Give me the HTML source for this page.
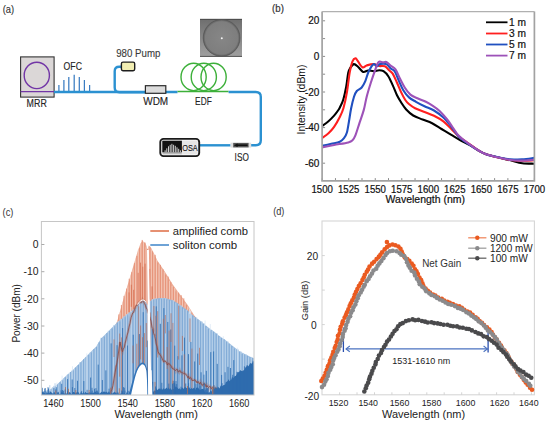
<!DOCTYPE html><html><head><meta charset="utf-8"><style>html,body{margin:0;padding:0;background:#fff;}body{width:550px;height:424px;overflow:hidden;}svg{display:block;font-family:"Liberation Sans", sans-serif;}</style></head><body>
<svg width="550" height="424" viewBox="0 0 550 424">
<rect width="550" height="424" fill="#fff"/>
<text x="2.70" y="12.80" font-size="10.20" fill="#333" stroke="#333" stroke-width="0.12" text-anchor="start" textLength="11.4" lengthAdjust="spacingAndGlyphs">(a)</text>
<rect x="20.6" y="56.9" width="33.5" height="40.2" fill="#dbd7d7" stroke="#333" stroke-width="1.1"/>
<ellipse cx="36.8" cy="75.4" rx="12.6" ry="13.2" fill="none" stroke="#7236a6" stroke-width="1.4"/>
<line x1="20.6" y1="91.7" x2="54" y2="91.7" stroke="#7236a6" stroke-width="1.3"/>
<text x="36.70" y="107.40" font-size="10.60" fill="#222" stroke="#222" stroke-width="0.12" text-anchor="middle" textLength="20.2" lengthAdjust="spacingAndGlyphs">MRR</text>
<line x1="58.9" y1="85.0" x2="58.9" y2="91.5" stroke="#3a7cc2" stroke-width="1.25"/>
<line x1="63.9" y1="80.0" x2="63.9" y2="91.5" stroke="#3a7cc2" stroke-width="1.25"/>
<line x1="68.8" y1="77.0" x2="68.8" y2="91.5" stroke="#3a7cc2" stroke-width="1.25"/>
<line x1="74.2" y1="74.7" x2="74.2" y2="91.5" stroke="#3a7cc2" stroke-width="1.25"/>
<line x1="79.3" y1="77.0" x2="79.3" y2="91.5" stroke="#3a7cc2" stroke-width="1.25"/>
<line x1="84.4" y1="80.0" x2="84.4" y2="91.5" stroke="#3a7cc2" stroke-width="1.25"/>
<line x1="89.6" y1="85.0" x2="89.6" y2="91.5" stroke="#3a7cc2" stroke-width="1.25"/>
<text x="72.80" y="69.90" font-size="10.60" fill="#222" stroke="#222" stroke-width="0.12" text-anchor="middle" textLength="18.4" lengthAdjust="spacingAndGlyphs">OFC</text>
<path d="M54,91.95 H177.5" stroke="#2b91d1" stroke-width="2.4" fill="none"/>
<path d="M177.5,91.6 H228.6" stroke="#3db03a" stroke-width="1.5" fill="none"/>
<path d="M228.6,91.95 H255.8 Q260.8,91.95 260.8,96.9 V140.2 Q260.8,145.2 255.8,145.2 H251" stroke="#2b91d1" stroke-width="2.4" fill="none"/>
<path d="M230.6,145.3 H199.5" stroke="#2b91d1" stroke-width="2.4" fill="none"/>
<path d="M121.5,66.7 H119.2 Q114.7,66.7 114.7,71.2 V87.6 Q114.7,92.3 119.4,92.3 H145.2" stroke="#2b91d1" stroke-width="2.4" fill="none"/>
<rect x="121.4" y="62.1" width="13.3" height="8.6" rx="1.6" fill="#f2eeb2" stroke="#1e1e1e" stroke-width="1.4"/>
<text x="116.20" y="56.60" font-size="10.20" fill="#3a3a3a" stroke="#3a3a3a" stroke-width="0.12" text-anchor="start" textLength="44.2" lengthAdjust="spacingAndGlyphs">980 Pump</text>
<rect x="145.4" y="85.7" width="20.4" height="7.6" fill="#dcdcdc" stroke="#2a2a2a" stroke-width="1.2"/>
<text x="155.70" y="104.70" font-size="10.60" fill="#222" stroke="#222" stroke-width="0.12" text-anchor="middle" textLength="25.0" lengthAdjust="spacingAndGlyphs">WDM</text>
<ellipse cx="193.6" cy="76.9" rx="12.6" ry="13.7" fill="none" stroke="#3db03a" stroke-width="1.4"/>
<ellipse cx="203.8" cy="76.9" rx="12.6" ry="13.7" fill="none" stroke="#3db03a" stroke-width="1.4"/>
<ellipse cx="213.6" cy="76.9" rx="12.6" ry="13.7" fill="none" stroke="#3db03a" stroke-width="1.4"/>
<text x="203.40" y="104.70" font-size="10.60" fill="#222" stroke="#222" stroke-width="0.12" text-anchor="middle" textLength="16.6" lengthAdjust="spacingAndGlyphs">EDF</text>
<defs><radialGradient id="pg" cx="0.5" cy="0.5" r="0.5"><stop offset="0" stop-color="#868686"/><stop offset="0.88" stop-color="#7e7e7e"/><stop offset="1" stop-color="#5c5c5c"/></radialGradient><linearGradient id="sq" x1="0" y1="0" x2="0" y2="1"><stop offset="0" stop-color="#6e6e6e"/><stop offset="1" stop-color="#a0a0a0"/></linearGradient></defs>
<rect x="200" y="18.9" width="42" height="38" fill="url(#sq)"/>
<line x1="200" y1="19.4" x2="242" y2="19.4" stroke="#4a4a4a" stroke-width="1"/>
<line x1="200" y1="56.4" x2="242" y2="56.4" stroke="#555" stroke-width="1"/>
<circle cx="221.6" cy="37.9" r="18.4" fill="url(#pg)" stroke="#555" stroke-width="0.7"/>
<circle cx="221.8" cy="38.3" r="1" fill="#f4f4f4"/>
<rect x="230.5" y="142.7" width="20.7" height="4.9" fill="#dedede"/>
<rect x="233.2" y="142.9" width="15.4" height="4.5" fill="#565656"/>
<path d="M237,145.2 H247.6" stroke="#111" stroke-width="1.6"/>
<path d="M233.8,145.2 L237.6,143.4 L237.6,147 Z" fill="#111"/>
<text x="241.70" y="160.60" font-size="10.60" fill="#222" stroke="#222" stroke-width="0.12" text-anchor="middle" textLength="14.2" lengthAdjust="spacingAndGlyphs">ISO</text>
<rect x="160.3" y="138.9" width="38.9" height="17.2" rx="3.2" fill="#fff" stroke="#1a1a1a" stroke-width="1.9"/>
<rect x="161.9" y="140.5" width="35.8" height="14" rx="0.8" fill="#e6e6e6"/>
<rect x="162.3" y="140.7" width="19.6" height="11.8" fill="#121212"/>
<rect x="162.3" y="152.5" width="19.6" height="2.1" fill="#d4d4d4"/>
<line x1="163" y1="152.9" x2="181.5" y2="152.9" stroke="#666" stroke-width="0.6"/>
<rect x="164.6" y="150.3" width="1" height="2.0" fill="#cfcfcf"/>
<rect x="166.3" y="148.3" width="1" height="4.0" fill="#cfcfcf"/>
<rect x="168.0" y="146.3" width="1" height="6.0" fill="#cfcfcf"/>
<rect x="169.7" y="144.8" width="1" height="7.5" fill="#cfcfcf"/>
<rect x="171.4" y="143.8" width="1" height="8.5" fill="#cfcfcf"/>
<rect x="173.1" y="144.8" width="1" height="7.5" fill="#cfcfcf"/>
<rect x="174.8" y="145.8" width="1" height="6.5" fill="#cfcfcf"/>
<rect x="176.5" y="147.3" width="1" height="5.0" fill="#cfcfcf"/>
<rect x="178.2" y="148.8" width="1" height="3.5" fill="#cfcfcf"/>
<rect x="179.9" y="150.3" width="1" height="2.0" fill="#cfcfcf"/>
<text x="190.00" y="150.80" font-size="9.40" fill="#111" stroke="#111" stroke-width="0.12" text-anchor="middle" textLength="15.4" lengthAdjust="spacingAndGlyphs">OSA</text>
<text x="272.10" y="12.10" font-size="10.00" fill="#333" stroke="#333" stroke-width="0.20" text-anchor="start" textLength="11.8" lengthAdjust="spacingAndGlyphs">(b)</text>
<line x1="322.20" y1="180.90" x2="322.20" y2="178.10" stroke="#8c8c8c" stroke-width="1"/>
<line x1="335.46" y1="180.90" x2="335.46" y2="178.10" stroke="#8c8c8c" stroke-width="1"/>
<line x1="348.72" y1="180.90" x2="348.72" y2="178.10" stroke="#8c8c8c" stroke-width="1"/>
<line x1="361.99" y1="180.90" x2="361.99" y2="178.10" stroke="#8c8c8c" stroke-width="1"/>
<line x1="375.25" y1="180.90" x2="375.25" y2="178.10" stroke="#8c8c8c" stroke-width="1"/>
<line x1="388.51" y1="180.90" x2="388.51" y2="178.10" stroke="#8c8c8c" stroke-width="1"/>
<line x1="401.77" y1="180.90" x2="401.77" y2="178.10" stroke="#8c8c8c" stroke-width="1"/>
<line x1="415.04" y1="180.90" x2="415.04" y2="178.10" stroke="#8c8c8c" stroke-width="1"/>
<line x1="428.30" y1="180.90" x2="428.30" y2="178.10" stroke="#8c8c8c" stroke-width="1"/>
<line x1="441.56" y1="180.90" x2="441.56" y2="178.10" stroke="#8c8c8c" stroke-width="1"/>
<line x1="454.82" y1="180.90" x2="454.82" y2="178.10" stroke="#8c8c8c" stroke-width="1"/>
<line x1="468.09" y1="180.90" x2="468.09" y2="178.10" stroke="#8c8c8c" stroke-width="1"/>
<line x1="481.35" y1="180.90" x2="481.35" y2="178.10" stroke="#8c8c8c" stroke-width="1"/>
<line x1="494.61" y1="180.90" x2="494.61" y2="178.10" stroke="#8c8c8c" stroke-width="1"/>
<line x1="507.88" y1="180.90" x2="507.88" y2="178.10" stroke="#8c8c8c" stroke-width="1"/>
<line x1="521.14" y1="180.90" x2="521.14" y2="178.10" stroke="#8c8c8c" stroke-width="1"/>
<line x1="534.40" y1="180.90" x2="534.40" y2="178.10" stroke="#8c8c8c" stroke-width="1"/>
<line x1="322.10" y1="163.20" x2="325.10" y2="163.20" stroke="#8c8c8c" stroke-width="1"/>
<line x1="322.10" y1="145.40" x2="325.10" y2="145.40" stroke="#8c8c8c" stroke-width="1"/>
<line x1="322.10" y1="127.60" x2="325.10" y2="127.60" stroke="#8c8c8c" stroke-width="1"/>
<line x1="322.10" y1="109.80" x2="325.10" y2="109.80" stroke="#8c8c8c" stroke-width="1"/>
<line x1="322.10" y1="92.00" x2="325.10" y2="92.00" stroke="#8c8c8c" stroke-width="1"/>
<line x1="322.10" y1="74.20" x2="325.10" y2="74.20" stroke="#8c8c8c" stroke-width="1"/>
<line x1="322.10" y1="56.40" x2="325.10" y2="56.40" stroke="#8c8c8c" stroke-width="1"/>
<line x1="322.10" y1="38.60" x2="325.10" y2="38.60" stroke="#8c8c8c" stroke-width="1"/>
<line x1="322.10" y1="20.80" x2="325.10" y2="20.80" stroke="#8c8c8c" stroke-width="1"/>
<clipPath id="cb"><rect x="322" y="11" width="212.5" height="170"/></clipPath>
<g clip-path="url(#cb)" fill="none" stroke-width="2.1" stroke-linejoin="round" stroke-linecap="round">
<path d="M321.70,126.20 C322.83,125.37 326.43,122.97 328.50,121.20 C330.57,119.43 332.45,117.47 334.10,115.60 C335.75,113.73 337.37,111.52 338.40,110.00 C339.43,108.48 339.48,108.25 340.30,106.50 C341.12,104.75 342.32,102.78 343.30,99.50 C344.28,96.22 345.37,91.28 346.20,86.80 C347.03,82.32 347.60,75.78 348.30,72.60 C349.00,69.42 349.45,69.12 350.40,67.70 C351.35,66.28 352.70,64.22 354.00,64.10 C355.30,63.98 356.68,65.70 358.20,67.00 C359.72,68.30 361.45,71.32 363.10,71.90 C364.75,72.48 366.33,70.62 368.10,70.50 C369.87,70.38 371.85,71.25 373.70,71.20 C375.55,71.15 377.57,70.20 379.20,70.20 C380.83,70.20 381.98,70.20 383.50,71.20 C385.02,72.20 386.75,73.83 388.30,76.20 C389.85,78.57 391.35,82.22 392.80,85.40 C394.25,88.58 395.60,92.45 397.00,95.30 C398.40,98.15 399.67,100.13 401.20,102.50 C402.73,104.87 404.20,107.33 406.20,109.50 C408.20,111.67 410.47,113.83 413.20,115.50 C415.93,117.17 419.45,118.20 422.60,119.50 C425.75,120.80 428.95,121.72 432.10,123.30 C435.25,124.88 438.37,127.12 441.50,129.00 C444.63,130.88 447.75,132.72 450.90,134.60 C454.05,136.48 457.25,138.57 460.40,140.30 C463.55,142.03 466.53,143.15 469.80,145.00 C473.07,146.85 477.17,149.83 480.00,151.40 C482.83,152.97 483.70,153.38 486.80,154.40 C489.90,155.42 494.65,156.52 498.60,157.50 C502.55,158.48 506.55,159.35 510.50,160.30 C514.45,161.25 518.37,162.63 522.30,163.20 C526.23,163.77 532.13,163.62 534.10,163.70" stroke="#000000"/>
<path d="M321.70,138.20 C322.83,137.37 326.43,135.08 328.50,133.20 C330.57,131.32 332.22,129.60 334.10,126.90 C335.98,124.20 338.23,120.15 339.80,117.00 C341.37,113.85 342.32,112.10 343.50,108.00 C344.68,103.90 345.87,98.30 346.90,92.40 C347.93,86.50 348.77,77.78 349.70,72.60 C350.63,67.42 351.55,63.68 352.50,61.30 C353.45,58.92 354.57,58.42 355.40,58.30 C356.23,58.18 356.33,59.10 357.50,60.60 C358.67,62.10 360.87,66.50 362.40,67.30 C363.93,68.10 364.82,65.93 366.70,65.40 C368.58,64.87 371.62,64.00 373.70,64.10 C375.78,64.20 377.33,65.63 379.20,66.00 C381.07,66.37 383.25,65.58 384.90,66.30 C386.55,67.02 387.80,69.08 389.10,70.30 C390.40,71.52 391.40,71.57 392.70,73.60 C394.00,75.63 395.48,79.37 396.90,82.50 C398.32,85.63 399.80,89.48 401.20,92.40 C402.60,95.32 404.02,98.07 405.30,100.00 C406.58,101.93 407.27,102.63 408.90,104.00 C410.53,105.37 412.50,106.87 415.10,108.20 C417.70,109.53 421.35,110.73 424.50,112.00 C427.65,113.27 430.85,114.23 434.00,115.80 C437.15,117.37 440.58,119.27 443.40,121.40 C446.22,123.53 448.38,126.13 450.90,128.60 C453.42,131.07 455.67,133.78 458.50,136.20 C461.33,138.62 464.32,140.57 467.90,143.10 C471.48,145.63 476.85,149.52 480.00,151.40 C483.15,153.28 483.70,153.38 486.80,154.40 C489.90,155.42 494.65,156.57 498.60,157.50 C502.55,158.43 506.55,159.47 510.50,160.00 C514.45,160.53 518.37,160.67 522.30,160.70 C526.23,160.73 532.13,160.28 534.10,160.20" stroke="#ff1f1f"/>
<path d="M321.70,146.00 C323.30,145.63 328.28,144.52 331.30,143.80 C334.32,143.08 337.68,142.63 339.80,141.70 C341.92,140.77 342.82,139.73 344.00,138.20 C345.18,136.67 346.07,135.33 346.90,132.50 C347.73,129.67 348.30,125.20 349.00,121.20 C349.70,117.20 350.27,112.58 351.10,108.50 C351.93,104.42 353.05,99.62 354.00,96.70 C354.95,93.78 355.52,92.53 356.80,91.00 C358.08,89.47 360.28,89.15 361.70,87.50 C363.12,85.85 364.12,83.82 365.30,81.10 C366.48,78.38 367.40,74.03 368.80,71.20 C370.20,68.37 372.40,64.92 373.70,64.10 C375.00,63.28 375.55,66.30 376.60,66.30 C377.65,66.30 378.38,64.47 380.00,64.10 C381.62,63.73 384.53,63.38 386.30,64.10 C388.07,64.82 389.18,67.17 390.60,68.40 C392.02,69.63 393.40,69.38 394.80,71.50 C396.20,73.62 397.58,77.97 399.00,81.10 C400.42,84.23 401.63,87.58 403.30,90.30 C404.97,93.02 406.88,95.48 409.00,97.40 C411.12,99.32 413.42,100.32 416.00,101.80 C418.58,103.28 421.50,104.85 424.50,106.30 C427.50,107.75 430.85,108.62 434.00,110.50 C437.15,112.38 440.58,115.00 443.40,117.60 C446.22,120.20 448.38,123.00 450.90,126.10 C453.42,129.20 455.67,133.28 458.50,136.20 C461.33,139.12 464.32,141.07 467.90,143.60 C471.48,146.13 476.85,149.60 480.00,151.40 C483.15,153.20 483.70,153.42 486.80,154.40 C489.90,155.38 494.65,156.47 498.60,157.30 C502.55,158.13 506.55,159.08 510.50,159.40 C514.45,159.72 518.37,159.45 522.30,159.20 C526.23,158.95 532.13,158.12 534.10,157.90" stroke="#2050c0"/>
<path d="M321.70,147.40 C323.77,147.00 329.67,145.83 334.10,145.00 C338.53,144.17 345.23,143.18 348.30,142.40 C351.37,141.62 351.32,141.47 352.50,140.30 C353.68,139.13 354.22,138.35 355.40,135.40 C356.58,132.45 358.20,126.85 359.60,122.60 C361.00,118.35 362.62,114.22 363.80,109.90 C364.98,105.58 365.52,101.27 366.70,96.70 C367.88,92.13 369.48,86.98 370.90,82.50 C372.32,78.02 374.02,73.10 375.20,69.80 C376.38,66.50 377.20,64.07 378.00,62.70 C378.80,61.33 379.17,61.65 380.00,61.60 C380.83,61.55 381.95,62.33 383.00,62.40 C384.05,62.47 385.03,61.47 386.30,62.00 C387.57,62.53 389.07,64.37 390.60,65.60 C392.13,66.83 393.97,67.28 395.50,69.40 C397.03,71.52 398.27,75.28 399.80,78.30 C401.33,81.32 402.93,84.78 404.70,87.50 C406.47,90.22 408.28,92.80 410.40,94.60 C412.52,96.40 414.82,97.10 417.40,98.30 C419.98,99.50 423.45,100.62 425.90,101.80 C428.35,102.98 429.82,103.87 432.10,105.40 C434.38,106.93 437.08,108.65 439.60,111.00 C442.12,113.35 445.00,116.75 447.20,119.50 C449.40,122.25 450.92,124.85 452.80,127.50 C454.68,130.15 455.98,132.80 458.50,135.40 C461.02,138.00 464.32,140.43 467.90,143.10 C471.48,145.77 476.85,149.52 480.00,151.40 C483.15,153.28 483.70,153.38 486.80,154.40 C489.90,155.42 494.65,156.57 498.60,157.50 C502.55,158.43 506.55,159.48 510.50,160.00 C514.45,160.52 518.37,160.63 522.30,160.60 C526.23,160.57 532.13,159.93 534.10,159.80" stroke="#9d52b8"/>
</g>
<path d="M322.1,11.6 V180.9 H534.4 V11.6" fill="none" stroke="#a2a2a2" stroke-width="1.7"/>
<line x1="322.1" y1="11.6" x2="534.4" y2="11.6" stroke="#b0b0b0" stroke-width="1.1"/>
<text x="319.40" y="24.30" font-size="10.00" fill="#111" stroke="#111" stroke-width="0.20" text-anchor="end">20</text>
<text x="319.40" y="59.90" font-size="10.00" fill="#111" stroke="#111" stroke-width="0.20" text-anchor="end">0</text>
<text x="319.40" y="95.50" font-size="10.00" fill="#111" stroke="#111" stroke-width="0.20" text-anchor="end">-20</text>
<text x="319.40" y="131.10" font-size="10.00" fill="#111" stroke="#111" stroke-width="0.20" text-anchor="end">-40</text>
<text x="319.40" y="166.70" font-size="10.00" fill="#111" stroke="#111" stroke-width="0.20" text-anchor="end">-60</text>
<text x="322.20" y="193.40" font-size="10.00" fill="#111" stroke="#111" stroke-width="0.20" text-anchor="middle" textLength="21.4" lengthAdjust="spacingAndGlyphs">1500</text>
<text x="348.72" y="193.40" font-size="10.00" fill="#111" stroke="#111" stroke-width="0.20" text-anchor="middle" textLength="21.4" lengthAdjust="spacingAndGlyphs">1525</text>
<text x="375.25" y="193.40" font-size="10.00" fill="#111" stroke="#111" stroke-width="0.20" text-anchor="middle" textLength="21.4" lengthAdjust="spacingAndGlyphs">1550</text>
<text x="401.77" y="193.40" font-size="10.00" fill="#111" stroke="#111" stroke-width="0.20" text-anchor="middle" textLength="21.4" lengthAdjust="spacingAndGlyphs">1575</text>
<text x="428.30" y="193.40" font-size="10.00" fill="#111" stroke="#111" stroke-width="0.20" text-anchor="middle" textLength="21.4" lengthAdjust="spacingAndGlyphs">1600</text>
<text x="454.82" y="193.40" font-size="10.00" fill="#111" stroke="#111" stroke-width="0.20" text-anchor="middle" textLength="21.4" lengthAdjust="spacingAndGlyphs">1625</text>
<text x="481.35" y="193.40" font-size="10.00" fill="#111" stroke="#111" stroke-width="0.20" text-anchor="middle" textLength="21.4" lengthAdjust="spacingAndGlyphs">1650</text>
<text x="507.88" y="193.40" font-size="10.00" fill="#111" stroke="#111" stroke-width="0.20" text-anchor="middle" textLength="21.4" lengthAdjust="spacingAndGlyphs">1675</text>
<text x="534.40" y="193.40" font-size="10.00" fill="#111" stroke="#111" stroke-width="0.20" text-anchor="middle" textLength="21.4" lengthAdjust="spacingAndGlyphs">1700</text>
<text x="425.30" y="203.40" font-size="10.40" fill="#111" stroke="#111" stroke-width="0.20" text-anchor="middle" textLength="79.5" lengthAdjust="spacingAndGlyphs">Wavelength (nm)</text>
<text transform="translate(305.2,99.5) rotate(-90)" x="0" y="0" font-size="10.2" fill="#111" text-anchor="middle" textLength="70" lengthAdjust="spacingAndGlyphs">Intensity (dBm)</text>
<line x1="486" y1="22.3" x2="507.5" y2="22.3" stroke="#000000" stroke-width="1.8"/>
<text x="509.00" y="26.00" font-size="10.40" fill="#111" stroke="#111" stroke-width="0.20" text-anchor="start" textLength="17.0" lengthAdjust="spacingAndGlyphs">1 m</text>
<line x1="486" y1="33.5" x2="507.5" y2="33.5" stroke="#ff1f1f" stroke-width="1.8"/>
<text x="509.00" y="37.20" font-size="10.40" fill="#111" stroke="#111" stroke-width="0.20" text-anchor="start" textLength="17.0" lengthAdjust="spacingAndGlyphs">3 m</text>
<line x1="486" y1="44.5" x2="507.5" y2="44.5" stroke="#2050c0" stroke-width="1.8"/>
<text x="509.00" y="48.20" font-size="10.40" fill="#111" stroke="#111" stroke-width="0.20" text-anchor="start" textLength="17.0" lengthAdjust="spacingAndGlyphs">5 m</text>
<line x1="486" y1="55.6" x2="507.5" y2="55.6" stroke="#9d52b8" stroke-width="1.8"/>
<text x="509.00" y="59.30" font-size="10.40" fill="#111" stroke="#111" stroke-width="0.20" text-anchor="start" textLength="17.0" lengthAdjust="spacingAndGlyphs">7 m</text>
<text x="2.60" y="216.40" font-size="10.00" fill="#333" text-anchor="start" textLength="10.8" lengthAdjust="spacingAndGlyphs">(c)</text>
<clipPath id="cc"><rect x="41.4" y="221.5" width="212.6" height="173.5"/></clipPath>
<g clip-path="url(#cc)">
<polygon points="110.0,340.0 114.0,330.0 117.7,319.6 123.6,298.4 130.7,274.8 137.7,251.2 140.5,243.5 142.5,240.4 144.0,242.6 145.4,242.8 146.5,246.0 147.3,250.0 148.8,245.5 150.4,246.8 151.5,248.5 157.5,260.8 165.1,272.0 172.6,284.3 180.2,294.7 187.7,305.0 194.3,315.5 200.0,322.0 200,395 110,395" fill="#edae98"/>
<line x1="111.00" y1="337.30" x2="111.00" y2="395" stroke="#e58f74" stroke-width="0.9"/>
<line x1="112.30" y1="334.70" x2="112.30" y2="395" stroke="#f6d2c4" stroke-width="0.7"/>
<line x1="113.60" y1="332.10" x2="113.60" y2="395" stroke="#e58f74" stroke-width="0.9"/>
<line x1="114.90" y1="327.69" x2="114.90" y2="395" stroke="#f6d2c4" stroke-width="0.7"/>
<line x1="116.20" y1="324.46" x2="116.20" y2="395" stroke="#e58f74" stroke-width="0.9"/>
<line x1="117.50" y1="321.26" x2="117.50" y2="395" stroke="#f6d2c4" stroke-width="0.7"/>
<line x1="118.80" y1="314.38" x2="118.80" y2="395" stroke="#e58f74" stroke-width="0.9"/>
<line x1="120.10" y1="312.50" x2="120.10" y2="395" stroke="#f6d2c4" stroke-width="0.7"/>
<line x1="121.40" y1="304.96" x2="121.40" y2="395" stroke="#e58f74" stroke-width="0.9"/>
<line x1="122.70" y1="302.93" x2="122.70" y2="395" stroke="#f6d2c4" stroke-width="0.7"/>
<line x1="124.00" y1="295.85" x2="124.00" y2="395" stroke="#e58f74" stroke-width="0.9"/>
<line x1="125.30" y1="293.02" x2="125.30" y2="395" stroke="#f6d2c4" stroke-width="0.7"/>
<line x1="126.60" y1="288.63" x2="126.60" y2="395" stroke="#e58f74" stroke-width="0.9"/>
<line x1="127.90" y1="286.59" x2="127.90" y2="395" stroke="#f6d2c4" stroke-width="0.7"/>
<line x1="129.20" y1="278.78" x2="129.20" y2="395" stroke="#e58f74" stroke-width="0.9"/>
<line x1="130.50" y1="276.13" x2="130.50" y2="395" stroke="#f6d2c4" stroke-width="0.7"/>
<line x1="131.80" y1="272.10" x2="131.80" y2="395" stroke="#e58f74" stroke-width="0.9"/>
<line x1="133.10" y1="269.55" x2="133.10" y2="395" stroke="#f6d2c4" stroke-width="0.7"/>
<line x1="134.40" y1="263.13" x2="134.40" y2="395" stroke="#e58f74" stroke-width="0.9"/>
<line x1="135.70" y1="259.13" x2="135.70" y2="395" stroke="#f6d2c4" stroke-width="0.7"/>
<line x1="137.00" y1="255.97" x2="137.00" y2="395" stroke="#e58f74" stroke-width="0.9"/>
<line x1="138.30" y1="249.69" x2="138.30" y2="395" stroke="#f6d2c4" stroke-width="0.7"/>
<line x1="139.60" y1="247.91" x2="139.60" y2="395" stroke="#e58f74" stroke-width="0.9"/>
<line x1="140.90" y1="243.75" x2="140.90" y2="395" stroke="#f6d2c4" stroke-width="0.7"/>
<line x1="142.20" y1="239.94" x2="142.20" y2="395" stroke="#e58f74" stroke-width="0.9"/>
<line x1="143.50" y1="242.22" x2="143.50" y2="395" stroke="#f6d2c4" stroke-width="0.7"/>
<line x1="144.80" y1="242.45" x2="144.80" y2="395" stroke="#e58f74" stroke-width="0.9"/>
<line x1="146.10" y1="247.28" x2="146.10" y2="395" stroke="#f6d2c4" stroke-width="0.7"/>
<line x1="147.40" y1="248.92" x2="147.40" y2="395" stroke="#e58f74" stroke-width="0.9"/>
<line x1="148.70" y1="247.54" x2="148.70" y2="395" stroke="#f6d2c4" stroke-width="0.7"/>
<line x1="150.00" y1="247.53" x2="150.00" y2="395" stroke="#e58f74" stroke-width="0.9"/>
<line x1="151.30" y1="249.31" x2="151.30" y2="395" stroke="#f6d2c4" stroke-width="0.7"/>
<line x1="152.60" y1="251.45" x2="152.60" y2="395" stroke="#e58f74" stroke-width="0.9"/>
<line x1="153.90" y1="253.61" x2="153.90" y2="395" stroke="#f6d2c4" stroke-width="0.7"/>
<line x1="155.20" y1="254.82" x2="155.20" y2="395" stroke="#e58f74" stroke-width="0.9"/>
<line x1="156.50" y1="259.37" x2="156.50" y2="395" stroke="#f6d2c4" stroke-width="0.7"/>
<line x1="157.80" y1="262.46" x2="157.80" y2="395" stroke="#e58f74" stroke-width="0.9"/>
<line x1="159.10" y1="264.44" x2="159.10" y2="395" stroke="#f6d2c4" stroke-width="0.7"/>
<line x1="160.40" y1="264.83" x2="160.40" y2="395" stroke="#e58f74" stroke-width="0.9"/>
<line x1="161.70" y1="268.75" x2="161.70" y2="395" stroke="#f6d2c4" stroke-width="0.7"/>
<line x1="163.00" y1="269.22" x2="163.00" y2="395" stroke="#e58f74" stroke-width="0.9"/>
<line x1="164.30" y1="271.72" x2="164.30" y2="395" stroke="#f6d2c4" stroke-width="0.7"/>
<line x1="165.60" y1="274.50" x2="165.60" y2="395" stroke="#e58f74" stroke-width="0.9"/>
<line x1="166.90" y1="277.05" x2="166.90" y2="395" stroke="#f6d2c4" stroke-width="0.7"/>
<line x1="168.20" y1="276.56" x2="168.20" y2="395" stroke="#e58f74" stroke-width="0.9"/>
<line x1="169.50" y1="280.94" x2="169.50" y2="395" stroke="#f6d2c4" stroke-width="0.7"/>
<line x1="170.80" y1="281.95" x2="170.80" y2="395" stroke="#e58f74" stroke-width="0.9"/>
<line x1="172.10" y1="286.11" x2="172.10" y2="395" stroke="#f6d2c4" stroke-width="0.7"/>
<line x1="173.40" y1="286.81" x2="173.40" y2="395" stroke="#e58f74" stroke-width="0.9"/>
<line x1="174.70" y1="288.04" x2="174.70" y2="395" stroke="#f6d2c4" stroke-width="0.7"/>
<line x1="176.00" y1="291.37" x2="176.00" y2="395" stroke="#e58f74" stroke-width="0.9"/>
<line x1="177.30" y1="291.09" x2="177.30" y2="395" stroke="#f6d2c4" stroke-width="0.7"/>
<line x1="178.60" y1="292.68" x2="178.60" y2="395" stroke="#e58f74" stroke-width="0.9"/>
<line x1="179.90" y1="296.56" x2="179.90" y2="395" stroke="#f6d2c4" stroke-width="0.7"/>
<line x1="181.20" y1="295.18" x2="181.20" y2="395" stroke="#e58f74" stroke-width="0.9"/>
<line x1="182.50" y1="299.33" x2="182.50" y2="395" stroke="#f6d2c4" stroke-width="0.7"/>
<line x1="183.80" y1="298.30" x2="183.80" y2="395" stroke="#e58f74" stroke-width="0.9"/>
<line x1="185.10" y1="303.43" x2="185.10" y2="395" stroke="#f6d2c4" stroke-width="0.7"/>
<line x1="186.40" y1="304.77" x2="186.40" y2="395" stroke="#e58f74" stroke-width="0.9"/>
<line x1="187.70" y1="306.72" x2="187.70" y2="395" stroke="#f6d2c4" stroke-width="0.7"/>
<line x1="189.00" y1="309.07" x2="189.00" y2="395" stroke="#e58f74" stroke-width="0.9"/>
<line x1="190.30" y1="310.08" x2="190.30" y2="395" stroke="#f6d2c4" stroke-width="0.7"/>
<line x1="191.60" y1="312.49" x2="191.60" y2="395" stroke="#e58f74" stroke-width="0.9"/>
<line x1="192.90" y1="315.06" x2="192.90" y2="395" stroke="#f6d2c4" stroke-width="0.7"/>
<line x1="194.20" y1="316.16" x2="194.20" y2="395" stroke="#e58f74" stroke-width="0.9"/>
<line x1="195.50" y1="318.24" x2="195.50" y2="395" stroke="#f6d2c4" stroke-width="0.7"/>
<line x1="196.80" y1="320.21" x2="196.80" y2="395" stroke="#e58f74" stroke-width="0.9"/>
<line x1="198.10" y1="322.67" x2="198.10" y2="395" stroke="#f6d2c4" stroke-width="0.7"/>
<line x1="129.00" y1="292.45" x2="129.00" y2="312" stroke="#cf6040" stroke-width="0.9" stroke-opacity="0.7"/>
<line x1="131.30" y1="284.78" x2="131.30" y2="312" stroke="#cf6040" stroke-width="0.9" stroke-opacity="0.7"/>
<line x1="133.60" y1="289.81" x2="133.60" y2="312" stroke="#cf6040" stroke-width="0.9" stroke-opacity="0.7"/>
<line x1="138.20" y1="272.80" x2="138.20" y2="312" stroke="#cf6040" stroke-width="0.9" stroke-opacity="0.7"/>
<line x1="140.50" y1="262.63" x2="140.50" y2="312" stroke="#cf6040" stroke-width="0.9" stroke-opacity="0.7"/>
<line x1="142.80" y1="266.71" x2="142.80" y2="312" stroke="#cf6040" stroke-width="0.9" stroke-opacity="0.7"/>
<line x1="145.10" y1="263.65" x2="145.10" y2="312" stroke="#cf6040" stroke-width="0.9" stroke-opacity="0.7"/>
<line x1="149.70" y1="268.93" x2="149.70" y2="312" stroke="#cf6040" stroke-width="0.9" stroke-opacity="0.7"/>
<line x1="152.00" y1="286.40" x2="152.00" y2="312" stroke="#cf6040" stroke-width="0.9" stroke-opacity="0.7"/>
<polygon points="41.4,392.0 50.0,389.5 56.0,385.5 64.8,377.1 73.0,369.7 83.0,359.8 89.6,353.1 96.2,346.5 101.0,338.5 105.9,333.7 111.8,327.8 117.7,321.9 123.6,317.1 129.5,312.4 135.4,307.7 139.5,303.0 141.9,300.6 143.8,299.6 145.5,301.5 147.5,306.0 149.5,302.0 151.9,299.4 159.0,298.0 165.0,298.0 171.3,299.8 177.0,302.8 182.6,306.7 188.3,311.0 190.0,313.0 195.9,317.7 201.8,321.8 207.7,327.1 213.6,331.3 219.5,336.0 225.4,340.1 230.0,343.7 232.5,345.7 239.6,351.3 246.7,354.9 254.0,358.5 254,395 41.4,395" fill="#9cbde0" fill-opacity="0.93"/>
<line x1="42.00" y1="389.58" x2="42.00" y2="395" stroke="#b8d0ea" stroke-width="0.9"/>
<line x1="48.50" y1="387.86" x2="48.50" y2="395" stroke="#b8d0ea" stroke-width="0.9"/>
<line x1="49.80" y1="385.14" x2="49.80" y2="395" stroke="#b8d0ea" stroke-width="0.9"/>
<line x1="52.40" y1="387.02" x2="52.40" y2="395" stroke="#b8d0ea" stroke-width="0.9"/>
<line x1="53.70" y1="385.87" x2="53.70" y2="395" stroke="#b8d0ea" stroke-width="0.9"/>
<line x1="55.00" y1="383.22" x2="55.00" y2="395" stroke="#b8d0ea" stroke-width="0.9"/>
<line x1="56.30" y1="384.87" x2="56.30" y2="395" stroke="#b9d2eb" stroke-width="1.0" stroke-opacity="0.9"/>
<line x1="56.90" y1="382.54" x2="56.90" y2="395" stroke="#dce8f5" stroke-width="0.8"/>
<line x1="57.60" y1="384.53" x2="57.60" y2="395" stroke="#80aad6" stroke-width="1.2" stroke-opacity="0.9"/>
<line x1="58.90" y1="384.11" x2="58.90" y2="395" stroke="#b9d2eb" stroke-width="1.0" stroke-opacity="0.9"/>
<line x1="60.20" y1="382.26" x2="60.20" y2="395" stroke="#80aad6" stroke-width="1.2" stroke-opacity="0.9"/>
<line x1="61.50" y1="380.94" x2="61.50" y2="395" stroke="#b9d2eb" stroke-width="1.0" stroke-opacity="0.9"/>
<line x1="62.10" y1="375.65" x2="62.10" y2="395" stroke="#dce8f5" stroke-width="0.8"/>
<line x1="62.80" y1="380.18" x2="62.80" y2="395" stroke="#80aad6" stroke-width="1.2" stroke-opacity="0.9"/>
<line x1="64.10" y1="378.76" x2="64.10" y2="395" stroke="#b9d2eb" stroke-width="1.0" stroke-opacity="0.9"/>
<line x1="65.40" y1="377.16" x2="65.40" y2="395" stroke="#80aad6" stroke-width="1.2" stroke-opacity="0.9"/>
<line x1="66.70" y1="375.97" x2="66.70" y2="395" stroke="#b9d2eb" stroke-width="1.0" stroke-opacity="0.9"/>
<line x1="67.30" y1="374.12" x2="67.30" y2="395" stroke="#dce8f5" stroke-width="0.8"/>
<line x1="68.00" y1="374.53" x2="68.00" y2="395" stroke="#80aad6" stroke-width="1.2" stroke-opacity="0.9"/>
<line x1="69.30" y1="372.89" x2="69.30" y2="395" stroke="#b9d2eb" stroke-width="1.0" stroke-opacity="0.9"/>
<line x1="69.90" y1="372.04" x2="69.90" y2="395" stroke="#dce8f5" stroke-width="0.8"/>
<line x1="70.60" y1="372.09" x2="70.60" y2="395" stroke="#80aad6" stroke-width="1.2" stroke-opacity="0.9"/>
<line x1="71.90" y1="370.60" x2="71.90" y2="395" stroke="#b9d2eb" stroke-width="1.0" stroke-opacity="0.9"/>
<line x1="72.50" y1="366.20" x2="72.50" y2="395" stroke="#dce8f5" stroke-width="0.8"/>
<line x1="73.20" y1="370.42" x2="73.20" y2="395" stroke="#80aad6" stroke-width="1.2" stroke-opacity="0.9"/>
<line x1="74.50" y1="367.85" x2="74.50" y2="395" stroke="#b9d2eb" stroke-width="1.0" stroke-opacity="0.9"/>
<line x1="75.80" y1="367.47" x2="75.80" y2="395" stroke="#80aad6" stroke-width="1.2" stroke-opacity="0.9"/>
<line x1="77.10" y1="366.76" x2="77.10" y2="395" stroke="#b9d2eb" stroke-width="1.0" stroke-opacity="0.9"/>
<line x1="78.40" y1="365.05" x2="78.40" y2="395" stroke="#80aad6" stroke-width="1.2" stroke-opacity="0.9"/>
<line x1="79.70" y1="362.28" x2="79.70" y2="395" stroke="#b9d2eb" stroke-width="1.0" stroke-opacity="0.9"/>
<line x1="81.00" y1="362.29" x2="81.00" y2="395" stroke="#80aad6" stroke-width="1.2" stroke-opacity="0.9"/>
<line x1="82.30" y1="361.57" x2="82.30" y2="395" stroke="#b9d2eb" stroke-width="1.0" stroke-opacity="0.9"/>
<line x1="83.60" y1="359.23" x2="83.60" y2="395" stroke="#80aad6" stroke-width="1.2" stroke-opacity="0.9"/>
<line x1="84.90" y1="358.19" x2="84.90" y2="395" stroke="#b9d2eb" stroke-width="1.0" stroke-opacity="0.9"/>
<line x1="86.20" y1="357.37" x2="86.20" y2="395" stroke="#80aad6" stroke-width="1.2" stroke-opacity="0.9"/>
<line x1="86.80" y1="353.44" x2="86.80" y2="395" stroke="#dce8f5" stroke-width="0.8"/>
<line x1="87.50" y1="356.68" x2="87.50" y2="395" stroke="#b9d2eb" stroke-width="1.0" stroke-opacity="0.9"/>
<line x1="88.80" y1="354.96" x2="88.80" y2="395" stroke="#80aad6" stroke-width="1.2" stroke-opacity="0.9"/>
<line x1="90.10" y1="352.52" x2="90.10" y2="395" stroke="#b9d2eb" stroke-width="1.0" stroke-opacity="0.9"/>
<line x1="91.40" y1="352.46" x2="91.40" y2="395" stroke="#80aad6" stroke-width="1.2" stroke-opacity="0.9"/>
<line x1="92.70" y1="350.95" x2="92.70" y2="395" stroke="#b9d2eb" stroke-width="1.0" stroke-opacity="0.9"/>
<line x1="94.00" y1="349.03" x2="94.00" y2="395" stroke="#80aad6" stroke-width="1.2" stroke-opacity="0.9"/>
<line x1="95.30" y1="348.86" x2="95.30" y2="395" stroke="#b9d2eb" stroke-width="1.0" stroke-opacity="0.9"/>
<line x1="96.60" y1="347.04" x2="96.60" y2="395" stroke="#80aad6" stroke-width="1.2" stroke-opacity="0.9"/>
<line x1="97.90" y1="344.52" x2="97.90" y2="395" stroke="#b9d2eb" stroke-width="1.0" stroke-opacity="0.9"/>
<line x1="99.20" y1="342.28" x2="99.20" y2="395" stroke="#80aad6" stroke-width="1.2" stroke-opacity="0.9"/>
<line x1="100.50" y1="338.41" x2="100.50" y2="395" stroke="#b9d2eb" stroke-width="1.0" stroke-opacity="0.9"/>
<line x1="101.10" y1="337.22" x2="101.10" y2="395" stroke="#dce8f5" stroke-width="0.8"/>
<line x1="101.80" y1="338.11" x2="101.80" y2="395" stroke="#80aad6" stroke-width="1.2" stroke-opacity="0.9"/>
<line x1="103.10" y1="337.83" x2="103.10" y2="395" stroke="#b9d2eb" stroke-width="1.0" stroke-opacity="0.9"/>
<line x1="104.40" y1="336.57" x2="104.40" y2="395" stroke="#80aad6" stroke-width="1.2" stroke-opacity="0.9"/>
<line x1="105.70" y1="335.28" x2="105.70" y2="395" stroke="#b9d2eb" stroke-width="1.0" stroke-opacity="0.9"/>
<line x1="107.00" y1="332.93" x2="107.00" y2="395" stroke="#80aad6" stroke-width="1.2" stroke-opacity="0.9"/>
<line x1="108.30" y1="330.79" x2="108.30" y2="395" stroke="#b9d2eb" stroke-width="1.0" stroke-opacity="0.9"/>
<line x1="109.60" y1="330.94" x2="109.60" y2="395" stroke="#80aad6" stroke-width="1.2" stroke-opacity="0.9"/>
<line x1="110.90" y1="329.80" x2="110.90" y2="395" stroke="#b9d2eb" stroke-width="1.0" stroke-opacity="0.9"/>
<line x1="112.20" y1="328.38" x2="112.20" y2="395" stroke="#80aad6" stroke-width="1.2" stroke-opacity="0.9"/>
<line x1="113.50" y1="325.31" x2="113.50" y2="395" stroke="#b9d2eb" stroke-width="1.0" stroke-opacity="0.9"/>
<line x1="114.80" y1="326.16" x2="114.80" y2="395" stroke="#80aad6" stroke-width="1.2" stroke-opacity="0.9"/>
<line x1="116.10" y1="324.38" x2="116.10" y2="395" stroke="#b9d2eb" stroke-width="1.0" stroke-opacity="0.9"/>
<line x1="117.40" y1="322.47" x2="117.40" y2="395" stroke="#80aad6" stroke-width="1.2" stroke-opacity="0.9"/>
<line x1="118.70" y1="320.92" x2="118.70" y2="395" stroke="#b9d2eb" stroke-width="1.0" stroke-opacity="0.9"/>
<line x1="120.00" y1="321.49" x2="120.00" y2="395" stroke="#80aad6" stroke-width="1.2" stroke-opacity="0.9"/>
<line x1="121.30" y1="318.97" x2="121.30" y2="395" stroke="#b9d2eb" stroke-width="1.0" stroke-opacity="0.9"/>
<line x1="122.60" y1="319.00" x2="122.60" y2="395" stroke="#80aad6" stroke-width="1.2" stroke-opacity="0.9"/>
<line x1="123.90" y1="316.18" x2="123.90" y2="395" stroke="#b9d2eb" stroke-width="1.0" stroke-opacity="0.9"/>
<line x1="125.20" y1="317.18" x2="125.20" y2="395" stroke="#80aad6" stroke-width="1.2" stroke-opacity="0.9"/>
<line x1="126.50" y1="314.16" x2="126.50" y2="395" stroke="#b9d2eb" stroke-width="1.0" stroke-opacity="0.9"/>
<line x1="127.80" y1="315.22" x2="127.80" y2="395" stroke="#80aad6" stroke-width="1.2" stroke-opacity="0.9"/>
<line x1="129.10" y1="312.59" x2="129.10" y2="395" stroke="#b9d2eb" stroke-width="1.0" stroke-opacity="0.9"/>
<line x1="130.40" y1="311.88" x2="130.40" y2="395" stroke="#80aad6" stroke-width="1.2" stroke-opacity="0.9"/>
<line x1="131.00" y1="306.80" x2="131.00" y2="395" stroke="#dce8f5" stroke-width="0.8"/>
<line x1="131.70" y1="311.27" x2="131.70" y2="395" stroke="#b9d2eb" stroke-width="1.0" stroke-opacity="0.9"/>
<line x1="133.00" y1="311.01" x2="133.00" y2="395" stroke="#80aad6" stroke-width="1.2" stroke-opacity="0.9"/>
<line x1="134.30" y1="309.76" x2="134.30" y2="395" stroke="#b9d2eb" stroke-width="1.0" stroke-opacity="0.9"/>
<line x1="135.60" y1="307.79" x2="135.60" y2="395" stroke="#80aad6" stroke-width="1.2" stroke-opacity="0.9"/>
<line x1="136.90" y1="305.71" x2="136.90" y2="395" stroke="#b9d2eb" stroke-width="1.0" stroke-opacity="0.9"/>
<line x1="138.20" y1="305.37" x2="138.20" y2="395" stroke="#80aad6" stroke-width="1.2" stroke-opacity="0.9"/>
<line x1="139.50" y1="303.05" x2="139.50" y2="395" stroke="#b9d2eb" stroke-width="1.0" stroke-opacity="0.9"/>
<line x1="140.80" y1="303.07" x2="140.80" y2="395" stroke="#80aad6" stroke-width="1.2" stroke-opacity="0.9"/>
<line x1="142.10" y1="300.64" x2="142.10" y2="395" stroke="#b9d2eb" stroke-width="1.0" stroke-opacity="0.9"/>
<line x1="143.40" y1="301.17" x2="143.40" y2="395" stroke="#80aad6" stroke-width="1.2" stroke-opacity="0.9"/>
<line x1="144.70" y1="301.90" x2="144.70" y2="395" stroke="#b9d2eb" stroke-width="1.0" stroke-opacity="0.9"/>
<line x1="146.00" y1="303.42" x2="146.00" y2="395" stroke="#80aad6" stroke-width="1.2" stroke-opacity="0.9"/>
<line x1="147.30" y1="304.60" x2="147.30" y2="395" stroke="#b9d2eb" stroke-width="1.0" stroke-opacity="0.9"/>
<line x1="148.60" y1="304.07" x2="148.60" y2="395" stroke="#80aad6" stroke-width="1.2" stroke-opacity="0.9"/>
<line x1="149.20" y1="299.60" x2="149.20" y2="395" stroke="#dce8f5" stroke-width="0.8"/>
<line x1="149.90" y1="301.00" x2="149.90" y2="395" stroke="#b9d2eb" stroke-width="1.0" stroke-opacity="0.9"/>
<line x1="151.20" y1="301.25" x2="151.20" y2="395" stroke="#80aad6" stroke-width="1.2" stroke-opacity="0.9"/>
<line x1="152.50" y1="299.10" x2="152.50" y2="395" stroke="#b9d2eb" stroke-width="1.0" stroke-opacity="0.9"/>
<line x1="153.80" y1="299.86" x2="153.80" y2="395" stroke="#80aad6" stroke-width="1.2" stroke-opacity="0.9"/>
<line x1="155.10" y1="298.03" x2="155.10" y2="395" stroke="#b9d2eb" stroke-width="1.0" stroke-opacity="0.9"/>
<line x1="156.40" y1="298.89" x2="156.40" y2="395" stroke="#80aad6" stroke-width="1.2" stroke-opacity="0.9"/>
<line x1="157.70" y1="299.19" x2="157.70" y2="395" stroke="#b9d2eb" stroke-width="1.0" stroke-opacity="0.9"/>
<line x1="159.00" y1="298.84" x2="159.00" y2="395" stroke="#80aad6" stroke-width="1.2" stroke-opacity="0.9"/>
<line x1="160.30" y1="299.28" x2="160.30" y2="395" stroke="#b9d2eb" stroke-width="1.0" stroke-opacity="0.9"/>
<line x1="161.60" y1="298.92" x2="161.60" y2="395" stroke="#80aad6" stroke-width="1.2" stroke-opacity="0.9"/>
<line x1="162.90" y1="298.28" x2="162.90" y2="395" stroke="#b9d2eb" stroke-width="1.0" stroke-opacity="0.9"/>
<line x1="164.20" y1="298.68" x2="164.20" y2="395" stroke="#80aad6" stroke-width="1.2" stroke-opacity="0.9"/>
<line x1="165.50" y1="298.34" x2="165.50" y2="395" stroke="#b9d2eb" stroke-width="1.0" stroke-opacity="0.9"/>
<line x1="166.80" y1="299.56" x2="166.80" y2="395" stroke="#80aad6" stroke-width="1.2" stroke-opacity="0.9"/>
<line x1="168.10" y1="300.24" x2="168.10" y2="395" stroke="#b9d2eb" stroke-width="1.0" stroke-opacity="0.9"/>
<line x1="169.40" y1="300.10" x2="169.40" y2="395" stroke="#80aad6" stroke-width="1.2" stroke-opacity="0.9"/>
<line x1="170.70" y1="300.73" x2="170.70" y2="395" stroke="#b9d2eb" stroke-width="1.0" stroke-opacity="0.9"/>
<line x1="172.00" y1="300.35" x2="172.00" y2="395" stroke="#80aad6" stroke-width="1.2" stroke-opacity="0.9"/>
<line x1="173.30" y1="300.03" x2="173.30" y2="395" stroke="#b9d2eb" stroke-width="1.0" stroke-opacity="0.9"/>
<line x1="174.60" y1="301.65" x2="174.60" y2="395" stroke="#80aad6" stroke-width="1.2" stroke-opacity="0.9"/>
<line x1="175.90" y1="303.18" x2="175.90" y2="395" stroke="#b9d2eb" stroke-width="1.0" stroke-opacity="0.9"/>
<line x1="177.20" y1="303.17" x2="177.20" y2="395" stroke="#80aad6" stroke-width="1.2" stroke-opacity="0.9"/>
<line x1="178.50" y1="304.50" x2="178.50" y2="395" stroke="#b9d2eb" stroke-width="1.0" stroke-opacity="0.9"/>
<line x1="179.80" y1="306.07" x2="179.80" y2="395" stroke="#80aad6" stroke-width="1.2" stroke-opacity="0.9"/>
<line x1="181.10" y1="305.20" x2="181.10" y2="395" stroke="#b9d2eb" stroke-width="1.0" stroke-opacity="0.9"/>
<line x1="182.40" y1="307.16" x2="182.40" y2="395" stroke="#80aad6" stroke-width="1.2" stroke-opacity="0.9"/>
<line x1="183.70" y1="309.00" x2="183.70" y2="395" stroke="#b9d2eb" stroke-width="1.0" stroke-opacity="0.9"/>
<line x1="185.00" y1="308.75" x2="185.00" y2="395" stroke="#80aad6" stroke-width="1.2" stroke-opacity="0.9"/>
<line x1="186.30" y1="309.78" x2="186.30" y2="395" stroke="#b9d2eb" stroke-width="1.0" stroke-opacity="0.9"/>
<line x1="187.60" y1="310.77" x2="187.60" y2="395" stroke="#80aad6" stroke-width="1.2" stroke-opacity="0.9"/>
<line x1="188.90" y1="312.51" x2="188.90" y2="395" stroke="#b9d2eb" stroke-width="1.0" stroke-opacity="0.9"/>
<line x1="189.50" y1="308.49" x2="189.50" y2="395" stroke="#dce8f5" stroke-width="0.8"/>
<line x1="190.20" y1="313.82" x2="190.20" y2="395" stroke="#80aad6" stroke-width="1.2" stroke-opacity="0.9"/>
<line x1="190.80" y1="310.83" x2="190.80" y2="395" stroke="#dce8f5" stroke-width="0.8"/>
<line x1="191.50" y1="314.75" x2="191.50" y2="395" stroke="#b9d2eb" stroke-width="1.0" stroke-opacity="0.9"/>
<line x1="192.80" y1="315.33" x2="192.80" y2="395" stroke="#80aad6" stroke-width="1.2" stroke-opacity="0.9"/>
<line x1="194.10" y1="317.24" x2="194.10" y2="395" stroke="#b9d2eb" stroke-width="1.0" stroke-opacity="0.9"/>
<line x1="195.40" y1="317.46" x2="195.40" y2="395" stroke="#80aad6" stroke-width="1.2" stroke-opacity="0.9"/>
<line x1="196.70" y1="317.35" x2="196.70" y2="395" stroke="#b9d2eb" stroke-width="1.0" stroke-opacity="0.9"/>
<line x1="198.00" y1="319.56" x2="198.00" y2="395" stroke="#80aad6" stroke-width="1.2" stroke-opacity="0.9"/>
<line x1="199.30" y1="320.12" x2="199.30" y2="395" stroke="#b9d2eb" stroke-width="1.0" stroke-opacity="0.9"/>
<line x1="200.60" y1="322.19" x2="200.60" y2="395" stroke="#80aad6" stroke-width="1.2" stroke-opacity="0.9"/>
<line x1="201.90" y1="321.26" x2="201.90" y2="395" stroke="#b9d2eb" stroke-width="1.0" stroke-opacity="0.9"/>
<line x1="203.20" y1="323.91" x2="203.20" y2="395" stroke="#80aad6" stroke-width="1.2" stroke-opacity="0.9"/>
<line x1="204.50" y1="323.45" x2="204.50" y2="395" stroke="#b9d2eb" stroke-width="1.0" stroke-opacity="0.9"/>
<line x1="205.10" y1="320.47" x2="205.10" y2="395" stroke="#dce8f5" stroke-width="0.8"/>
<line x1="205.80" y1="326.03" x2="205.80" y2="395" stroke="#80aad6" stroke-width="1.2" stroke-opacity="0.9"/>
<line x1="207.10" y1="327.91" x2="207.10" y2="395" stroke="#b9d2eb" stroke-width="1.0" stroke-opacity="0.9"/>
<line x1="208.40" y1="328.80" x2="208.40" y2="395" stroke="#80aad6" stroke-width="1.2" stroke-opacity="0.9"/>
<line x1="209.70" y1="329.66" x2="209.70" y2="395" stroke="#b9d2eb" stroke-width="1.0" stroke-opacity="0.9"/>
<line x1="210.30" y1="324.07" x2="210.30" y2="395" stroke="#dce8f5" stroke-width="0.8"/>
<line x1="211.00" y1="330.13" x2="211.00" y2="395" stroke="#80aad6" stroke-width="1.2" stroke-opacity="0.9"/>
<line x1="212.30" y1="330.76" x2="212.30" y2="395" stroke="#b9d2eb" stroke-width="1.0" stroke-opacity="0.9"/>
<line x1="213.60" y1="331.70" x2="213.60" y2="395" stroke="#80aad6" stroke-width="1.2" stroke-opacity="0.9"/>
<line x1="214.90" y1="332.65" x2="214.90" y2="395" stroke="#b9d2eb" stroke-width="1.0" stroke-opacity="0.9"/>
<line x1="216.20" y1="333.54" x2="216.20" y2="395" stroke="#80aad6" stroke-width="1.2" stroke-opacity="0.9"/>
<line x1="217.50" y1="333.53" x2="217.50" y2="395" stroke="#b9d2eb" stroke-width="1.0" stroke-opacity="0.9"/>
<line x1="218.80" y1="335.91" x2="218.80" y2="395" stroke="#80aad6" stroke-width="1.2" stroke-opacity="0.9"/>
<line x1="220.10" y1="337.32" x2="220.10" y2="395" stroke="#b9d2eb" stroke-width="1.0" stroke-opacity="0.9"/>
<line x1="221.40" y1="338.07" x2="221.40" y2="395" stroke="#80aad6" stroke-width="1.2" stroke-opacity="0.9"/>
<line x1="222.70" y1="338.09" x2="222.70" y2="395" stroke="#b9d2eb" stroke-width="1.0" stroke-opacity="0.9"/>
<line x1="223.30" y1="336.22" x2="223.30" y2="395" stroke="#dce8f5" stroke-width="0.8"/>
<line x1="224.00" y1="339.15" x2="224.00" y2="395" stroke="#80aad6" stroke-width="1.2" stroke-opacity="0.9"/>
<line x1="225.30" y1="340.41" x2="225.30" y2="395" stroke="#b9d2eb" stroke-width="1.0" stroke-opacity="0.9"/>
<line x1="226.60" y1="341.75" x2="226.60" y2="395" stroke="#80aad6" stroke-width="1.2" stroke-opacity="0.9"/>
<line x1="227.90" y1="341.32" x2="227.90" y2="395" stroke="#b9d2eb" stroke-width="1.0" stroke-opacity="0.9"/>
<line x1="229.20" y1="343.72" x2="229.20" y2="395" stroke="#80aad6" stroke-width="1.2" stroke-opacity="0.9"/>
<line x1="230.50" y1="345.19" x2="230.50" y2="395" stroke="#b9d2eb" stroke-width="1.0" stroke-opacity="0.9"/>
<line x1="231.80" y1="345.90" x2="231.80" y2="395" stroke="#80aad6" stroke-width="1.2" stroke-opacity="0.9"/>
<line x1="233.10" y1="347.63" x2="233.10" y2="395" stroke="#b9d2eb" stroke-width="1.0" stroke-opacity="0.9"/>
<line x1="234.40" y1="348.45" x2="234.40" y2="395" stroke="#80aad6" stroke-width="1.2" stroke-opacity="0.9"/>
<line x1="235.70" y1="348.81" x2="235.70" y2="395" stroke="#b9d2eb" stroke-width="1.0" stroke-opacity="0.9"/>
<line x1="237.00" y1="349.77" x2="237.00" y2="395" stroke="#80aad6" stroke-width="1.2" stroke-opacity="0.9"/>
<line x1="237.60" y1="347.73" x2="237.60" y2="395" stroke="#dce8f5" stroke-width="0.8"/>
<line x1="238.30" y1="349.45" x2="238.30" y2="395" stroke="#b9d2eb" stroke-width="1.0" stroke-opacity="0.9"/>
<line x1="239.60" y1="351.68" x2="239.60" y2="395" stroke="#80aad6" stroke-width="1.2" stroke-opacity="0.9"/>
<line x1="240.90" y1="351.17" x2="240.90" y2="395" stroke="#b9d2eb" stroke-width="1.0" stroke-opacity="0.9"/>
<line x1="242.20" y1="353.92" x2="242.20" y2="395" stroke="#80aad6" stroke-width="1.2" stroke-opacity="0.9"/>
<line x1="243.50" y1="352.98" x2="243.50" y2="395" stroke="#b9d2eb" stroke-width="1.0" stroke-opacity="0.9"/>
<line x1="244.80" y1="354.38" x2="244.80" y2="395" stroke="#80aad6" stroke-width="1.2" stroke-opacity="0.9"/>
<line x1="246.10" y1="353.99" x2="246.10" y2="395" stroke="#b9d2eb" stroke-width="1.0" stroke-opacity="0.9"/>
<line x1="247.40" y1="355.64" x2="247.40" y2="395" stroke="#80aad6" stroke-width="1.2" stroke-opacity="0.9"/>
<line x1="248.70" y1="357.32" x2="248.70" y2="395" stroke="#b9d2eb" stroke-width="1.0" stroke-opacity="0.9"/>
<line x1="250.00" y1="356.89" x2="250.00" y2="395" stroke="#80aad6" stroke-width="1.2" stroke-opacity="0.9"/>
<line x1="251.30" y1="356.94" x2="251.30" y2="395" stroke="#b9d2eb" stroke-width="1.0" stroke-opacity="0.9"/>
<line x1="252.60" y1="357.81" x2="252.60" y2="395" stroke="#80aad6" stroke-width="1.2" stroke-opacity="0.9"/>
<line x1="253.90" y1="358.64" x2="253.90" y2="395" stroke="#b9d2eb" stroke-width="1.0" stroke-opacity="0.9"/>
<line x1="50.00" y1="391.21" x2="50.00" y2="395" stroke="#3473b6" stroke-width="1" stroke-opacity="0.9"/>
<line x1="56.27" y1="387.22" x2="56.27" y2="395" stroke="#3473b6" stroke-width="1" stroke-opacity="0.9"/>
<line x1="61.69" y1="383.79" x2="61.69" y2="395" stroke="#3473b6" stroke-width="1" stroke-opacity="0.9"/>
<line x1="67.59" y1="379.13" x2="67.59" y2="395" stroke="#3473b6" stroke-width="1" stroke-opacity="0.9"/>
<line x1="72.17" y1="379.47" x2="72.17" y2="395" stroke="#3473b6" stroke-width="1" stroke-opacity="0.9"/>
<line x1="77.48" y1="380.79" x2="77.48" y2="395" stroke="#3473b6" stroke-width="1" stroke-opacity="0.9"/>
<line x1="83.84" y1="381.04" x2="83.84" y2="395" stroke="#3473b6" stroke-width="1" stroke-opacity="0.9"/>
<line x1="90.64" y1="377.56" x2="90.64" y2="395" stroke="#3473b6" stroke-width="1" stroke-opacity="0.9"/>
<line x1="98.21" y1="364.62" x2="98.21" y2="395" stroke="#3473b6" stroke-width="1" stroke-opacity="0.9"/>
<line x1="102.35" y1="380.06" x2="102.35" y2="395" stroke="#3473b6" stroke-width="1" stroke-opacity="0.9"/>
<line x1="105.88" y1="370.38" x2="105.88" y2="395" stroke="#3473b6" stroke-width="1" stroke-opacity="0.9"/>
<line x1="111.13" y1="343.38" x2="111.13" y2="395" stroke="#3473b6" stroke-width="1" stroke-opacity="0.9"/>
<line x1="117.05" y1="345.16" x2="117.05" y2="395" stroke="#3473b6" stroke-width="1" stroke-opacity="0.9"/>
<line x1="122.62" y1="328.04" x2="122.62" y2="395" stroke="#3473b6" stroke-width="1" stroke-opacity="0.9"/>
<line x1="127.45" y1="345.52" x2="127.45" y2="395" stroke="#3473b6" stroke-width="1" stroke-opacity="0.9"/>
<line x1="133.27" y1="334.74" x2="133.27" y2="395" stroke="#3473b6" stroke-width="1" stroke-opacity="0.9"/>
<line x1="139.40" y1="334.04" x2="139.40" y2="395" stroke="#3473b6" stroke-width="1" stroke-opacity="0.9"/>
<line x1="143.20" y1="312.20" x2="143.20" y2="395" stroke="#3473b6" stroke-width="1" stroke-opacity="0.9"/>
<line x1="147.46" y1="340.59" x2="147.46" y2="395" stroke="#3473b6" stroke-width="1" stroke-opacity="0.9"/>
<line x1="152.42" y1="329.13" x2="152.42" y2="395" stroke="#3473b6" stroke-width="1" stroke-opacity="0.9"/>
<line x1="156.25" y1="306.38" x2="156.25" y2="395" stroke="#3473b6" stroke-width="1" stroke-opacity="0.9"/>
<line x1="160.32" y1="323.81" x2="160.32" y2="395" stroke="#3473b6" stroke-width="1" stroke-opacity="0.9"/>
<line x1="163.85" y1="308.13" x2="163.85" y2="395" stroke="#3473b6" stroke-width="1" stroke-opacity="0.9"/>
<line x1="167.79" y1="321.98" x2="167.79" y2="395" stroke="#3473b6" stroke-width="1" stroke-opacity="0.9"/>
<line x1="170.75" y1="329.48" x2="170.75" y2="395" stroke="#3473b6" stroke-width="1" stroke-opacity="0.9"/>
<line x1="174.70" y1="345.65" x2="174.70" y2="395" stroke="#3473b6" stroke-width="1" stroke-opacity="0.9"/>
<line x1="177.91" y1="356.18" x2="177.91" y2="395" stroke="#3473b6" stroke-width="1" stroke-opacity="0.9"/>
<line x1="181.92" y1="355.36" x2="181.92" y2="395" stroke="#3473b6" stroke-width="1" stroke-opacity="0.9"/>
<line x1="184.48" y1="337.63" x2="184.48" y2="395" stroke="#3473b6" stroke-width="1" stroke-opacity="0.9"/>
<line x1="188.44" y1="354.11" x2="188.44" y2="395" stroke="#3473b6" stroke-width="1" stroke-opacity="0.9"/>
<line x1="190.87" y1="341.97" x2="190.87" y2="395" stroke="#3473b6" stroke-width="1" stroke-opacity="0.9"/>
<line x1="194.68" y1="361.47" x2="194.68" y2="395" stroke="#3473b6" stroke-width="1" stroke-opacity="0.9"/>
<line x1="197.69" y1="353.59" x2="197.69" y2="395" stroke="#3473b6" stroke-width="1" stroke-opacity="0.9"/>
<line x1="201.07" y1="372.26" x2="201.07" y2="395" stroke="#3473b6" stroke-width="1" stroke-opacity="0.9"/>
<line x1="203.89" y1="374.67" x2="203.89" y2="395" stroke="#3473b6" stroke-width="1" stroke-opacity="0.9"/>
<line x1="206.32" y1="370.87" x2="206.32" y2="395" stroke="#3473b6" stroke-width="1" stroke-opacity="0.9"/>
<line x1="210.76" y1="352.13" x2="210.76" y2="395" stroke="#3473b6" stroke-width="1" stroke-opacity="0.9"/>
<line x1="213.60" y1="351.42" x2="213.60" y2="395" stroke="#3473b6" stroke-width="1" stroke-opacity="0.9"/>
<line x1="217.22" y1="363.88" x2="217.22" y2="395" stroke="#3473b6" stroke-width="1" stroke-opacity="0.9"/>
<line x1="221.62" y1="374.93" x2="221.62" y2="395" stroke="#3473b6" stroke-width="1" stroke-opacity="0.9"/>
<line x1="225.09" y1="372.23" x2="225.09" y2="395" stroke="#3473b6" stroke-width="1" stroke-opacity="0.9"/>
<line x1="227.97" y1="366.83" x2="227.97" y2="395" stroke="#3473b6" stroke-width="1" stroke-opacity="0.9"/>
<line x1="230.43" y1="368.01" x2="230.43" y2="395" stroke="#3473b6" stroke-width="1" stroke-opacity="0.9"/>
<line x1="233.77" y1="360.10" x2="233.77" y2="395" stroke="#3473b6" stroke-width="1" stroke-opacity="0.9"/>
<line x1="236.90" y1="379.51" x2="236.90" y2="395" stroke="#3473b6" stroke-width="1" stroke-opacity="0.9"/>
<line x1="239.30" y1="380.13" x2="239.30" y2="395" stroke="#3473b6" stroke-width="1" stroke-opacity="0.9"/>
<line x1="241.95" y1="377.66" x2="241.95" y2="395" stroke="#3473b6" stroke-width="1" stroke-opacity="0.9"/>
<line x1="246.24" y1="370.99" x2="246.24" y2="395" stroke="#3473b6" stroke-width="1" stroke-opacity="0.9"/>
<line x1="249.47" y1="376.56" x2="249.47" y2="395" stroke="#3473b6" stroke-width="1" stroke-opacity="0.9"/>
<line x1="114.00" y1="339.36" x2="114.00" y2="357.01" stroke="#bb6650" stroke-width="0.9" stroke-opacity="0.7"/>
<line x1="115.90" y1="365.43" x2="115.90" y2="395.00" stroke="#bb6650" stroke-width="0.9" stroke-opacity="0.7"/>
<line x1="119.70" y1="333.56" x2="119.70" y2="376.66" stroke="#bb6650" stroke-width="0.9" stroke-opacity="0.7"/>
<line x1="121.60" y1="337.39" x2="121.60" y2="395.00" stroke="#bb6650" stroke-width="0.9" stroke-opacity="0.7"/>
<line x1="133.00" y1="345.59" x2="133.00" y2="363.31" stroke="#bb6650" stroke-width="0.9" stroke-opacity="0.7"/>
<line x1="136.80" y1="343.73" x2="136.80" y2="394.18" stroke="#bb6650" stroke-width="0.9" stroke-opacity="0.7"/>
<line x1="138.70" y1="306.37" x2="138.70" y2="372.34" stroke="#bb6650" stroke-width="0.9" stroke-opacity="0.7"/>
<line x1="140.60" y1="325.51" x2="140.60" y2="359.41" stroke="#bb6650" stroke-width="0.9" stroke-opacity="0.7"/>
<line x1="142.50" y1="337.24" x2="142.50" y2="395.00" stroke="#bb6650" stroke-width="0.9" stroke-opacity="0.7"/>
<line x1="144.40" y1="333.07" x2="144.40" y2="364.62" stroke="#bb6650" stroke-width="0.9" stroke-opacity="0.7"/>
<line x1="146.30" y1="323.02" x2="146.30" y2="347.22" stroke="#bb6650" stroke-width="0.9" stroke-opacity="0.7"/>
<line x1="148.20" y1="314.99" x2="148.20" y2="379.82" stroke="#bb6650" stroke-width="0.9" stroke-opacity="0.7"/>
<line x1="150.10" y1="312.35" x2="150.10" y2="377.20" stroke="#bb6650" stroke-width="0.9" stroke-opacity="0.7"/>
<line x1="153.90" y1="305.99" x2="153.90" y2="331.57" stroke="#bb6650" stroke-width="0.9" stroke-opacity="0.7"/>
<line x1="155.80" y1="315.73" x2="155.80" y2="335.74" stroke="#bb6650" stroke-width="0.9" stroke-opacity="0.7"/>
<line x1="157.70" y1="311.17" x2="157.70" y2="357.50" stroke="#bb6650" stroke-width="0.9" stroke-opacity="0.7"/>
<line x1="163.40" y1="318.69" x2="163.40" y2="362.52" stroke="#bb6650" stroke-width="0.9" stroke-opacity="0.7"/>
<line x1="165.30" y1="315.00" x2="165.30" y2="333.41" stroke="#bb6650" stroke-width="0.9" stroke-opacity="0.7"/>
<line x1="167.20" y1="347.01" x2="167.20" y2="368.94" stroke="#bb6650" stroke-width="0.9" stroke-opacity="0.7"/>
<line x1="169.10" y1="330.65" x2="169.10" y2="393.11" stroke="#bb6650" stroke-width="0.9" stroke-opacity="0.7"/>
<line x1="171.00" y1="313.27" x2="171.00" y2="341.93" stroke="#bb6650" stroke-width="0.9" stroke-opacity="0.7"/>
<line x1="172.90" y1="322.94" x2="172.90" y2="390.40" stroke="#bb6650" stroke-width="0.9" stroke-opacity="0.7"/>
<line x1="178.60" y1="305.53" x2="178.60" y2="359.55" stroke="#bb6650" stroke-width="0.9" stroke-opacity="0.7"/>
<line x1="182.40" y1="335.92" x2="182.40" y2="350.93" stroke="#bb6650" stroke-width="0.9" stroke-opacity="0.7"/>
<line x1="184.30" y1="354.32" x2="184.30" y2="395.00" stroke="#bb6650" stroke-width="0.9" stroke-opacity="0.7"/>
<line x1="190.00" y1="318.45" x2="190.00" y2="341.94" stroke="#bb6650" stroke-width="0.9" stroke-opacity="0.7"/>
<line x1="191.90" y1="348.62" x2="191.90" y2="395.00" stroke="#bb6650" stroke-width="0.9" stroke-opacity="0.7"/>
<line x1="199.50" y1="347.78" x2="199.50" y2="364.95" stroke="#bb6650" stroke-width="0.9" stroke-opacity="0.7"/>
<path d="M110.0,395.7 L111.0,391.9 L112.0,390.3 L113.0,385.2 L114.0,378.3 L115.0,372.6 L116.0,367.3 L117.0,363.2 L118.0,355.9 L119.0,349.1 L120.0,342.4 L120.8,346.7 L121.7,349.8 L122.5,351.9 L123.3,348.6 L124.2,347.2 L125.0,343.5 L126.0,340.4 L127.0,334.7 L128.0,331.6 L129.0,327.5 L130.0,322.8 L131.0,317.1 L131.9,314.1 L132.8,312.9 L133.6,312.1 L134.5,310.5 L135.4,307.9 L136.4,306.0 L137.4,304.4 L138.3,303.1 L139.2,301.9 L140.0,301.8 L140.9,302.7 L141.7,302.3 L142.6,299.6 L143.5,301.0 L144.5,303.8 L145.4,305.6 L146.3,308.6 L147.2,309.7 L148.1,313.0 L149.0,313.9 L150.0,318.7 L151.0,320.8 L152.0,327.4 L152.9,328.6 L153.7,334.0 L154.6,334.7 L155.4,338.4 L156.2,343.5 L157.0,345.8 L158.1,352.4 L159.2,354.1 L160.1,354.3 L161.1,356.1 L162.1,359.3 L163.0,360.4 L163.9,361.4 L164.8,361.2 L165.7,362.3 L166.6,363.2 L167.5,364.2 L168.4,363.5 L169.3,364.6 L170.3,365.4 L171.2,367.1 L172.1,367.3 L173.1,368.4 L174.0,368.3 L174.8,369.6 L175.7,371.4 L176.5,369.5 L177.3,370.3 L178.2,371.6 L179.0,372.5 L179.9,370.2 L180.7,371.9 L181.6,372.8 L182.5,373.7 L183.4,372.5 L184.3,373.6 L185.2,373.8 L186.1,374.3 L187.0,375.4 L187.9,377.0 L188.7,375.6 L189.6,378.4 L190.4,377.7 L191.3,378.8 L192.1,379.7 L193.0,379.9 L193.8,379.9 L194.6,380.0 L195.5,380.5 L196.3,380.8 L197.1,382.4 L197.9,382.1 L198.8,382.4 L199.6,383.2 L200.4,381.4 L201.2,383.4 L202.1,385.1 L202.9,385.6 L203.7,383.0 L204.5,383.4 L205.3,384.8 L206.2,386.7 L207.0,385.0 L207.8,386.6 L208.6,388.6 L209.5,386.1 L210.3,386.7 L211.1,388.3 L211.9,387.8 L212.8,388.1 L213.6,389.8 L214.4,387.8 L215.2,387.6 L216.1,388.3 L216.9,389.6 L217.8,389.9 L218.6,391.3 L219.5,391.5 L220.3,390.2 L221.2,390.3 L222.0,392.3" fill="none" stroke="#a85a48" stroke-width="2.6" stroke-opacity="0.28"/>
<path d="M110.0,395.7 L111.0,391.0 L112.0,389.4 L113.0,385.4 L114.0,378.8 L115.0,372.7 L116.0,367.4 L117.0,362.4 L118.0,356.5 L119.0,348.5 L120.0,341.9 L120.8,346.1 L121.7,349.2 L122.5,351.7 L123.3,348.9 L124.2,347.6 L125.0,343.7 L126.0,339.8 L127.0,335.6 L128.0,332.2 L129.0,327.0 L130.0,323.3 L131.0,317.9 L131.9,315.1 L132.8,312.8 L133.6,312.4 L134.5,309.5 L135.4,307.1 L136.4,305.0 L137.4,304.9 L138.3,304.0 L139.2,302.8 L140.0,301.8 L140.9,302.3 L141.7,302.4 L142.6,300.1 L143.5,301.2 L144.5,303.5 L145.4,305.3 L146.3,308.1 L147.2,309.0 L148.1,312.6 L149.0,314.6 L150.0,318.0 L151.0,321.2 L152.0,327.2 L152.9,328.8 L153.7,333.5 L154.6,335.3 L155.4,338.9 L156.2,344.0 L157.0,346.5 L158.1,351.7 L159.2,354.0 L160.1,354.7 L161.1,356.3 L162.1,358.3 L163.0,360.4 L163.9,361.9 L164.8,360.6 L165.7,362.0 L166.6,362.3 L167.5,365.0 L168.4,363.6 L169.3,364.0 L170.3,364.7 L171.2,366.2 L172.1,368.2 L173.1,368.8 L174.0,369.1 L174.8,370.2 L175.7,370.5 L176.5,369.4 L177.3,369.4 L178.2,371.8 L179.0,371.8 L179.9,370.3 L180.7,372.4 L181.6,372.3 L182.5,372.8 L183.4,373.3 L184.3,373.4 L185.2,373.6 L186.1,374.9 L187.0,375.6 L187.9,377.8 L188.7,376.2 L189.6,378.9 L190.4,377.5 L191.3,378.5 L192.1,380.3 L193.0,380.8 L193.8,380.2 L194.6,379.6 L195.5,381.1 L196.3,381.2 L197.1,383.0 L197.9,381.5 L198.8,382.3 L199.6,384.1 L200.4,382.2 L201.2,383.6 L202.1,385.0 L202.9,385.3 L203.7,383.8 L204.5,384.1 L205.3,384.4 L206.2,386.9 L207.0,385.4 L207.8,387.0 L208.6,387.7 L209.5,386.5 L210.3,386.6 L211.1,388.6 L211.9,388.0 L212.8,387.3 L213.6,388.8 L214.4,388.0 L215.2,388.2 L216.1,387.9 L216.9,390.2 L217.8,390.9 L218.6,390.5 L219.5,391.7 L220.3,389.6 L221.2,390.5 L222.0,391.5" fill="none" stroke="#8a4a44" stroke-width="0.95" stroke-opacity="0.85"/>
<path d="M137.5,304.5 Q142.3,297 145.8,301.8" fill="none" stroke="#ffffff" stroke-width="1"/>
<polygon points="41.4,392.8 42.3,391.9 43.2,391.4 44.1,393.0 45.0,393.3 45.9,394.1 46.8,391.7 47.7,393.2 48.6,392.5 49.5,392.9 50.4,391.8 51.3,392.2 52.2,392.9 53.1,394.1 54.0,391.7 54.9,392.8 55.8,393.8 56.7,394.3 57.6,391.9 58.5,391.7 59.4,394.2 60.3,394.3 61.2,392.8 62.1,391.5 63.0,394.1 63.9,392.5 64.8,394.0 65.7,393.2 66.6,393.8 67.5,391.8 68.4,393.7 69.3,392.0 70.2,392.5 71.1,393.9 72.0,393.8 72.9,391.9 73.8,392.0 74.7,392.5 75.6,392.9 76.5,392.5 77.4,391.7 78.3,392.0 79.2,393.5 80.1,394.0 81.0,391.4 81.9,393.0 82.8,393.6 83.7,391.4 84.6,393.8 85.5,391.6 86.4,393.1 87.3,392.9 88.2,393.2 89.1,392.2 90.0,392.5 90.9,393.0 91.8,392.5 92.7,393.2 93.6,392.6 94.5,392.6 95.4,391.3 96.3,393.1 97.2,392.7 98.1,391.9 99.0,393.5 99.9,393.6 100.8,392.6 101.7,391.8 102.6,392.7 103.5,391.5 104.4,391.6 105.3,392.5 106.2,391.5 107.1,392.5 108.0,392.7 108.9,391.3 109.8,393.1 110.7,391.5 111.6,393.4 112.5,393.5 113.4,392.7 114.3,391.4 115.2,392.7 116.1,392.3 117.0,394.0 117.9,391.6 118.8,393.8 119.7,394.2 120.6,393.4 121.5,393.6 122.4,391.8 123.3,394.1 124.2,392.6 125.1,394.0 126.0,393.9 126.9,391.7 127.8,393.5 128.7,394.0 129.6,391.4 130.5,392.2 131.4,393.4 132.3,391.6 133.2,393.8 134.1,392.0 135.0,393.6 135.9,391.6 136.8,392.6 137.7,393.9 138.6,391.8 139.5,391.9 140.4,392.6 141.3,392.1 142.2,391.2 143.1,391.7 144.0,391.6 144.9,393.9 145.8,393.2 146.7,393.8 147.6,391.6 148.5,393.5 149.4,391.4 150.3,392.5 151.2,392.4 152.1,391.1 153.0,392.2 153.9,390.8 154.8,390.4 155.7,390.9 156.6,388.1 157.5,390.3 158.4,389.0 159.3,388.3 160.2,389.5 161.1,387.9 162.0,390.1 162.9,388.8 163.8,388.2 164.7,389.4 165.6,388.4 166.5,387.6 167.4,389.3 168.3,387.2 169.2,389.6 170.1,387.9 171.0,389.0 171.9,390.1 172.8,388.9 173.7,389.1 174.6,388.0 175.5,387.1 176.4,387.2 177.3,387.5 178.2,388.9 179.1,388.4 180.0,388.6 180.9,389.8 181.8,387.5 182.7,387.8 183.6,389.1 184.5,387.2 185.4,387.1 186.3,388.2 187.2,387.4 188.1,388.2 189.0,387.8 189.9,388.9 190.8,388.9 191.7,387.7 192.6,389.0 193.5,388.5 194.4,387.5 195.3,389.9 196.2,387.8 197.1,387.5 198.0,387.4 198.9,389.0 199.8,389.7 200.7,389.7 201.6,388.9 202.5,388.9 203.4,388.5 204.3,390.8 205.2,393.0 206.1,392.1 207.0,392.7 207.9,391.8 208.8,393.0 209.7,392.0 210.6,390.2 211.5,391.8 212.4,388.8 213.3,389.9 214.2,389.1 215.1,388.2 216.0,387.3 216.9,389.1 217.8,386.4 218.7,387.6 219.6,388.4 220.5,385.7 221.4,385.5 222.3,386.2 223.2,385.2 224.1,384.9 225.0,384.7 225.9,382.0 226.8,381.7 227.7,381.0 228.6,379.5 229.5,381.3 230.4,380.3 231.3,379.4 232.2,376.5 233.1,378.3 234.0,377.3 234.9,375.8 235.8,375.9 236.7,374.4 237.6,373.0 238.5,372.0 239.4,371.7 240.3,370.5 241.2,370.7 242.1,371.2 243.0,370.4 243.9,370.2 244.8,369.1 245.7,367.0 246.6,367.1 247.5,366.0 248.4,366.2 249.3,364.7 250.2,363.1 251.1,363.4 252.0,363.6 252.9,360.6 253.8,361.8 254.5,395 41.4,395" fill="#2e6cae"/>
<line x1="45.2" y1="388.0" x2="45.2" y2="394" stroke="#2e6cae" stroke-width="0.8"/>
<line x1="198.2" y1="388.5" x2="198.2" y2="394" stroke="#2e6cae" stroke-width="0.8"/>
<line x1="110.6" y1="390.5" x2="110.6" y2="394" stroke="#2e6cae" stroke-width="0.8"/>
<line x1="92.2" y1="390.6" x2="92.2" y2="394" stroke="#2e6cae" stroke-width="0.8"/>
<line x1="187.5" y1="386.0" x2="187.5" y2="394" stroke="#b0705a" stroke-width="0.8"/>
<line x1="140.6" y1="390.4" x2="140.6" y2="394" stroke="#2e6cae" stroke-width="0.8"/>
<line x1="222.1" y1="383.2" x2="222.1" y2="394" stroke="#2e6cae" stroke-width="0.8"/>
<line x1="161.8" y1="382.8" x2="161.8" y2="394" stroke="#2e6cae" stroke-width="0.8"/>
<line x1="172.8" y1="380.7" x2="172.8" y2="394" stroke="#b0705a" stroke-width="0.8"/>
<line x1="72.4" y1="387.1" x2="72.4" y2="394" stroke="#2e6cae" stroke-width="0.8"/>
<line x1="237.1" y1="371.8" x2="237.1" y2="394" stroke="#2e6cae" stroke-width="0.8"/>
<line x1="48.0" y1="387.2" x2="48.0" y2="394" stroke="#2e6cae" stroke-width="0.8"/>
<line x1="175.1" y1="386.3" x2="175.1" y2="394" stroke="#2e6cae" stroke-width="0.8"/>
<line x1="55.8" y1="389.4" x2="55.8" y2="394" stroke="#2e6cae" stroke-width="0.8"/>
<line x1="213.7" y1="385.2" x2="213.7" y2="394" stroke="#b0705a" stroke-width="0.8"/>
<line x1="55.8" y1="390.5" x2="55.8" y2="394" stroke="#b0705a" stroke-width="0.8"/>
<line x1="240.3" y1="370.3" x2="240.3" y2="394" stroke="#2e6cae" stroke-width="0.8"/>
<line x1="65.5" y1="387.1" x2="65.5" y2="394" stroke="#b0705a" stroke-width="0.8"/>
<line x1="212.5" y1="386.5" x2="212.5" y2="394" stroke="#b0705a" stroke-width="0.8"/>
<line x1="174.6" y1="382.6" x2="174.6" y2="394" stroke="#2e6cae" stroke-width="0.8"/>
<line x1="62.6" y1="390.0" x2="62.6" y2="394" stroke="#2e6cae" stroke-width="0.8"/>
<line x1="109.0" y1="388.7" x2="109.0" y2="394" stroke="#2e6cae" stroke-width="0.8"/>
<line x1="95.9" y1="388.1" x2="95.9" y2="394" stroke="#2e6cae" stroke-width="0.8"/>
<line x1="119.3" y1="388.3" x2="119.3" y2="394" stroke="#b0705a" stroke-width="0.8"/>
<line x1="147.8" y1="390.4" x2="147.8" y2="394" stroke="#2e6cae" stroke-width="0.8"/>
<line x1="48.5" y1="388.7" x2="48.5" y2="394" stroke="#2e6cae" stroke-width="0.8"/>
<line x1="204.3" y1="383.1" x2="204.3" y2="394" stroke="#2e6cae" stroke-width="0.8"/>
<line x1="155.0" y1="381.9" x2="155.0" y2="394" stroke="#b0705a" stroke-width="0.8"/>
<line x1="61.1" y1="390.3" x2="61.1" y2="394" stroke="#2e6cae" stroke-width="0.8"/>
<line x1="42.3" y1="387.8" x2="42.3" y2="394" stroke="#2e6cae" stroke-width="0.8"/>
<line x1="247.4" y1="365.2" x2="247.4" y2="394" stroke="#2e6cae" stroke-width="0.8"/>
<line x1="145.2" y1="390.2" x2="145.2" y2="394" stroke="#2e6cae" stroke-width="0.8"/>
<line x1="145.9" y1="388.4" x2="145.9" y2="394" stroke="#b0705a" stroke-width="0.8"/>
<line x1="96.7" y1="390.8" x2="96.7" y2="394" stroke="#2e6cae" stroke-width="0.8"/>
<line x1="87.1" y1="389.8" x2="87.1" y2="394" stroke="#2e6cae" stroke-width="0.8"/>
<line x1="65.1" y1="389.5" x2="65.1" y2="394" stroke="#2e6cae" stroke-width="0.8"/>
<line x1="207.5" y1="388.2" x2="207.5" y2="394" stroke="#2e6cae" stroke-width="0.8"/>
<line x1="173.9" y1="383.2" x2="173.9" y2="394" stroke="#2e6cae" stroke-width="0.8"/>
<line x1="124.9" y1="390.6" x2="124.9" y2="394" stroke="#2e6cae" stroke-width="0.8"/>
<line x1="228.6" y1="379.7" x2="228.6" y2="394" stroke="#2e6cae" stroke-width="0.8"/>
<line x1="97.3" y1="390.6" x2="97.3" y2="394" stroke="#2e6cae" stroke-width="0.8"/>
<line x1="121.7" y1="390.5" x2="121.7" y2="394" stroke="#2e6cae" stroke-width="0.8"/>
<line x1="138.8" y1="389.1" x2="138.8" y2="394" stroke="#2e6cae" stroke-width="0.8"/>
<line x1="200.1" y1="385.8" x2="200.1" y2="394" stroke="#2e6cae" stroke-width="0.8"/>
<line x1="110.6" y1="387.6" x2="110.6" y2="394" stroke="#b0705a" stroke-width="0.8"/>
<line x1="181.0" y1="386.7" x2="181.0" y2="394" stroke="#2e6cae" stroke-width="0.8"/>
<line x1="134.1" y1="390.1" x2="134.1" y2="394" stroke="#2e6cae" stroke-width="0.8"/>
<line x1="68.5" y1="388.8" x2="68.5" y2="394" stroke="#b0705a" stroke-width="0.8"/>
<line x1="92.0" y1="387.8" x2="92.0" y2="394" stroke="#2e6cae" stroke-width="0.8"/>
<line x1="189.7" y1="387.6" x2="189.7" y2="394" stroke="#2e6cae" stroke-width="0.8"/>
<line x1="74.8" y1="388.0" x2="74.8" y2="394" stroke="#2e6cae" stroke-width="0.8"/>
<line x1="151.7" y1="381.4" x2="151.7" y2="394" stroke="#2e6cae" stroke-width="0.8"/>
<line x1="81.7" y1="390.9" x2="81.7" y2="394" stroke="#2e6cae" stroke-width="0.8"/>
<line x1="63.4" y1="390.8" x2="63.4" y2="394" stroke="#2e6cae" stroke-width="0.8"/>
<line x1="122.7" y1="390.9" x2="122.7" y2="394" stroke="#2e6cae" stroke-width="0.8"/>
<line x1="196.0" y1="383.9" x2="196.0" y2="394" stroke="#2e6cae" stroke-width="0.8"/>
<line x1="176.0" y1="381.0" x2="176.0" y2="394" stroke="#2e6cae" stroke-width="0.8"/>
<line x1="123.6" y1="387.1" x2="123.6" y2="394" stroke="#2e6cae" stroke-width="0.8"/>
<line x1="208.1" y1="388.0" x2="208.1" y2="394" stroke="#2e6cae" stroke-width="0.8"/>
<line x1="174.8" y1="384.2" x2="174.8" y2="394" stroke="#2e6cae" stroke-width="0.8"/>
<line x1="168.8" y1="383.6" x2="168.8" y2="394" stroke="#2e6cae" stroke-width="0.8"/>
<line x1="232.7" y1="374.8" x2="232.7" y2="394" stroke="#2e6cae" stroke-width="0.8"/>
<line x1="199.3" y1="383.8" x2="199.3" y2="394" stroke="#2e6cae" stroke-width="0.8"/>
<line x1="193.7" y1="387.9" x2="193.7" y2="394" stroke="#2e6cae" stroke-width="0.8"/>
<line x1="189.0" y1="387.7" x2="189.0" y2="394" stroke="#2e6cae" stroke-width="0.8"/>
<line x1="176.7" y1="384.1" x2="176.7" y2="394" stroke="#2e6cae" stroke-width="0.8"/>
<line x1="173.9" y1="380.9" x2="173.9" y2="394" stroke="#2e6cae" stroke-width="0.8"/>
<line x1="206.3" y1="388.5" x2="206.3" y2="394" stroke="#2e6cae" stroke-width="0.8"/>
<line x1="94.5" y1="388.7" x2="94.5" y2="394" stroke="#2e6cae" stroke-width="0.8"/>
<line x1="172.5" y1="383.7" x2="172.5" y2="394" stroke="#2e6cae" stroke-width="0.8"/>
<line x1="237.3" y1="372.2" x2="237.3" y2="394" stroke="#2e6cae" stroke-width="0.8"/>
<line x1="205.4" y1="390.1" x2="205.4" y2="394" stroke="#2e6cae" stroke-width="0.8"/>
<line x1="246.7" y1="365.6" x2="246.7" y2="394" stroke="#2e6cae" stroke-width="0.8"/>
<line x1="75.8" y1="390.1" x2="75.8" y2="394" stroke="#b0705a" stroke-width="0.8"/>
<line x1="151.0" y1="380.9" x2="151.0" y2="394" stroke="#2e6cae" stroke-width="0.8"/>
<line x1="155.6" y1="386.5" x2="155.6" y2="394" stroke="#2e6cae" stroke-width="0.8"/>
<line x1="176.2" y1="387.5" x2="176.2" y2="394" stroke="#2e6cae" stroke-width="0.8"/>
<line x1="128.2" y1="390.8" x2="128.2" y2="394" stroke="#2e6cae" stroke-width="0.8"/>
<line x1="185.7" y1="383.5" x2="185.7" y2="394" stroke="#2e6cae" stroke-width="0.8"/>
<line x1="67.7" y1="390.9" x2="67.7" y2="394" stroke="#2e6cae" stroke-width="0.8"/>
<line x1="53.9" y1="388.1" x2="53.9" y2="394" stroke="#2e6cae" stroke-width="0.8"/>
<line x1="44.8" y1="388.7" x2="44.8" y2="394" stroke="#2e6cae" stroke-width="0.8"/>
<line x1="188.6" y1="383.2" x2="188.6" y2="394" stroke="#2e6cae" stroke-width="0.8"/>
<line x1="89.1" y1="390.0" x2="89.1" y2="394" stroke="#b0705a" stroke-width="0.8"/>
<line x1="152.7" y1="382.0" x2="152.7" y2="394" stroke="#2e6cae" stroke-width="0.8"/>
<line x1="124.3" y1="387.8" x2="124.3" y2="394" stroke="#2e6cae" stroke-width="0.8"/>
<line x1="205.1" y1="388.5" x2="205.1" y2="394" stroke="#2e6cae" stroke-width="0.8"/>
<line x1="140.5" y1="389.2" x2="140.5" y2="394" stroke="#2e6cae" stroke-width="0.8"/>
<line x1="244.4" y1="366.3" x2="244.4" y2="394" stroke="#2e6cae" stroke-width="0.8"/>
<line x1="213.9" y1="385.1" x2="213.9" y2="394" stroke="#2e6cae" stroke-width="0.8"/>
<path d="M128.6,395 C131.2,387 133.8,373.5 137.2,367.6 C139.2,364.2 141,362.6 142.6,362.6 C144.8,362.8 146.3,365.5 147.3,370 C148,376 148.3,386 148.5,395 Z" fill="#3273b8"/>
<path d="M131,395 C133,387 135.3,374 138.3,368.6 C139.8,366 141.2,364.3 142.6,364.3 C144.2,364.5 145.4,366.3 146.3,370.5 C147,376 147.3,388 147.4,395 Z" fill="#ffffff"/>
<path d="M149.2,372 L151.6,370 L152.4,395 L149.3,395 Z" fill="#ffffff"/>
<path d="M147.0,250 H148.9 L149.7,300 L151.5,395 H148.1 L147.6,300 Z" fill="#ffffff"/>
</g>
<rect x="41.4" y="221.5" width="212.6" height="173.5" fill="none" stroke="#c6c6c6" stroke-width="1"/>
<line x1="41.4" y1="380.3" x2="44.4" y2="380.3" stroke="#aaa" stroke-width="1"/>
<line x1="41.4" y1="353.1" x2="44.4" y2="353.1" stroke="#aaa" stroke-width="1"/>
<line x1="41.4" y1="326.0" x2="44.4" y2="326.0" stroke="#aaa" stroke-width="1"/>
<line x1="41.4" y1="298.8" x2="44.4" y2="298.8" stroke="#aaa" stroke-width="1"/>
<line x1="41.4" y1="271.7" x2="44.4" y2="271.7" stroke="#aaa" stroke-width="1"/>
<line x1="41.4" y1="244.5" x2="44.4" y2="244.5" stroke="#aaa" stroke-width="1"/>
<text x="38.60" y="248.30" font-size="10.40" fill="#222" text-anchor="end">0</text>
<text x="38.60" y="275.46" font-size="10.40" fill="#222" text-anchor="end">-10</text>
<text x="38.60" y="302.62" font-size="10.40" fill="#222" text-anchor="end">-20</text>
<text x="38.60" y="329.78" font-size="10.40" fill="#222" text-anchor="end">-30</text>
<text x="38.60" y="356.94" font-size="10.40" fill="#222" text-anchor="end">-40</text>
<text x="38.60" y="384.10" font-size="10.40" fill="#222" text-anchor="end">-50</text>
<text x="53.40" y="407.30" font-size="10.20" fill="#222" text-anchor="middle" textLength="20.5" lengthAdjust="spacingAndGlyphs">1460</text>
<text x="90.56" y="407.30" font-size="10.20" fill="#222" text-anchor="middle" textLength="20.5" lengthAdjust="spacingAndGlyphs">1500</text>
<text x="127.72" y="407.30" font-size="10.20" fill="#222" text-anchor="middle" textLength="20.5" lengthAdjust="spacingAndGlyphs">1540</text>
<text x="164.88" y="407.30" font-size="10.20" fill="#222" text-anchor="middle" textLength="20.5" lengthAdjust="spacingAndGlyphs">1580</text>
<text x="202.04" y="407.30" font-size="10.20" fill="#222" text-anchor="middle" textLength="20.5" lengthAdjust="spacingAndGlyphs">1620</text>
<text x="239.20" y="407.30" font-size="10.20" fill="#222" text-anchor="middle" textLength="20.5" lengthAdjust="spacingAndGlyphs">1660</text>
<text x="156.20" y="417.80" font-size="11.00" fill="#222" text-anchor="middle" textLength="83.5" lengthAdjust="spacingAndGlyphs">Wavelength (nm)</text>
<text transform="translate(20.2,313.4) rotate(-90)" x="0" y="0" font-size="10.4" fill="#222" text-anchor="middle" textLength="58.4" lengthAdjust="spacingAndGlyphs">Power (dBm)</text>
<line x1="150.3" y1="231" x2="169" y2="231" stroke="#e0754f" stroke-width="1.6"/>
<line x1="150.3" y1="245" x2="169" y2="245" stroke="#4a8ccc" stroke-width="1.6"/>
<text x="172.70" y="234.60" font-size="11.20" fill="#222" text-anchor="start" textLength="75.3" lengthAdjust="spacingAndGlyphs">amplified comb</text>
<text x="172.70" y="248.60" font-size="11.20" fill="#222" text-anchor="start" textLength="64.5" lengthAdjust="spacingAndGlyphs">soliton comb</text>
<text x="273.20" y="215.30" font-size="10.00" fill="#333" text-anchor="start" textLength="11.2" lengthAdjust="spacingAndGlyphs">(d)</text>
<rect x="322.0" y="221.0" width="212.4" height="173.8" fill="none" stroke="#d6d6d6" stroke-width="1.1"/>
<line x1="339.6" y1="394.8" x2="339.6" y2="392.3" stroke="#cfcfcf" stroke-width="0.9"/>
<line x1="357.0" y1="394.8" x2="357.0" y2="392.3" stroke="#cfcfcf" stroke-width="0.9"/>
<line x1="374.5" y1="394.8" x2="374.5" y2="392.3" stroke="#cfcfcf" stroke-width="0.9"/>
<line x1="391.9" y1="394.8" x2="391.9" y2="392.3" stroke="#cfcfcf" stroke-width="0.9"/>
<line x1="409.4" y1="394.8" x2="409.4" y2="392.3" stroke="#cfcfcf" stroke-width="0.9"/>
<line x1="426.8" y1="394.8" x2="426.8" y2="392.3" stroke="#cfcfcf" stroke-width="0.9"/>
<line x1="444.2" y1="394.8" x2="444.2" y2="392.3" stroke="#cfcfcf" stroke-width="0.9"/>
<line x1="461.7" y1="394.8" x2="461.7" y2="392.3" stroke="#cfcfcf" stroke-width="0.9"/>
<line x1="479.1" y1="394.8" x2="479.1" y2="392.3" stroke="#cfcfcf" stroke-width="0.9"/>
<line x1="496.6" y1="394.8" x2="496.6" y2="392.3" stroke="#cfcfcf" stroke-width="0.9"/>
<line x1="514.0" y1="394.8" x2="514.0" y2="392.3" stroke="#cfcfcf" stroke-width="0.9"/>
<line x1="531.4" y1="394.8" x2="531.4" y2="392.3" stroke="#cfcfcf" stroke-width="0.9"/>
<line x1="322.0" y1="359.1" x2="324.8" y2="359.1" stroke="#cfcfcf" stroke-width="0.9"/>
<line x1="322.0" y1="324.6" x2="324.8" y2="324.6" stroke="#cfcfcf" stroke-width="0.9"/>
<line x1="322.0" y1="290.1" x2="324.8" y2="290.1" stroke="#cfcfcf" stroke-width="0.9"/>
<line x1="322.0" y1="255.6" x2="324.8" y2="255.6" stroke="#cfcfcf" stroke-width="0.9"/>
<text x="318.20" y="259.80" font-size="10.20" fill="#222" text-anchor="end">20</text>
<text x="316.60" y="329.30" font-size="10.20" fill="#222" text-anchor="end">0</text>
<text x="319.20" y="400.20" font-size="10.20" fill="#222" text-anchor="end">-20</text>
<text x="338.50" y="406.40" font-size="9.60" fill="#222" text-anchor="middle" textLength="19.6" lengthAdjust="spacingAndGlyphs">1520</text>
<text x="368.20" y="406.40" font-size="9.60" fill="#222" text-anchor="middle" textLength="19.6" lengthAdjust="spacingAndGlyphs">1540</text>
<text x="399.50" y="406.40" font-size="9.60" fill="#222" text-anchor="middle" textLength="19.6" lengthAdjust="spacingAndGlyphs">1560</text>
<text x="431.50" y="406.40" font-size="9.60" fill="#222" text-anchor="middle" textLength="19.6" lengthAdjust="spacingAndGlyphs">1580</text>
<text x="465.60" y="406.40" font-size="9.60" fill="#222" text-anchor="middle" textLength="19.6" lengthAdjust="spacingAndGlyphs">1600</text>
<text x="499.60" y="406.40" font-size="9.60" fill="#222" text-anchor="middle" textLength="19.6" lengthAdjust="spacingAndGlyphs">1620</text>
<text x="528.80" y="406.40" font-size="9.60" fill="#222" text-anchor="middle" textLength="19.6" lengthAdjust="spacingAndGlyphs">1640</text>
<text x="423.60" y="418.40" font-size="11.00" fill="#222" text-anchor="middle" textLength="83.0" lengthAdjust="spacingAndGlyphs">Wavelength (nm)</text>
<text transform="translate(307.8,300.5) rotate(-90)" x="0" y="0" font-size="9.4" fill="#222" text-anchor="middle" textLength="39.5" lengthAdjust="spacingAndGlyphs">Gain (dB)</text>
<line x1="346" y1="348.9" x2="487" y2="348.9" stroke="#4a72c0" stroke-width="1.2"/>
<path d="M349.8,346 L346,348.9 L349.8,351.8" fill="none" stroke="#4a72c0" stroke-width="1.1"/>
<path d="M483.6,346 L487.4,348.9 L483.6,351.8" fill="none" stroke="#4a72c0" stroke-width="1.1"/>
<line x1="343.4" y1="327.5" x2="343.4" y2="352" stroke="#2a4fae" stroke-width="1.3"/>
<line x1="488.1" y1="332.3" x2="488.1" y2="352.6" stroke="#2a4fae" stroke-width="1.3"/>
<text x="392.20" y="364.30" font-size="9.40" fill="#222" text-anchor="start" textLength="58.0" lengthAdjust="spacingAndGlyphs">1531-1610 nm</text>
<text x="422.20" y="267.00" font-size="10.00" fill="#333" text-anchor="start" textLength="39.0" lengthAdjust="spacingAndGlyphs">Net Gain</text>
<clipPath id="cd"><rect x="318" y="221" width="220" height="178"/></clipPath>
<g clip-path="url(#cd)">
<g fill="#ea5a20"><circle cx="321.31" cy="381.04" r="2.30"/><circle cx="322.84" cy="378.59" r="2.30"/><circle cx="324.54" cy="375.80" r="2.30"/><circle cx="325.72" cy="372.44" r="2.30"/><circle cx="326.90" cy="369.51" r="2.30"/><circle cx="327.95" cy="366.13" r="2.30"/><circle cx="329.54" cy="363.38" r="2.30"/><circle cx="330.14" cy="360.37" r="2.30"/><circle cx="331.39" cy="357.45" r="2.30"/><circle cx="332.56" cy="354.63" r="2.30"/><circle cx="333.31" cy="351.84" r="2.30"/><circle cx="334.76" cy="348.01" r="2.30"/><circle cx="335.73" cy="345.74" r="2.30"/><circle cx="336.70" cy="342.01" r="2.30"/><circle cx="337.74" cy="339.41" r="2.30"/><circle cx="337.94" cy="335.79" r="2.30"/><circle cx="339.67" cy="333.30" r="2.30"/><circle cx="339.92" cy="329.72" r="2.30"/><circle cx="340.70" cy="326.77" r="2.30"/><circle cx="342.25" cy="323.82" r="2.30"/><circle cx="342.84" cy="321.34" r="2.30"/><circle cx="344.57" cy="317.69" r="2.30"/><circle cx="345.87" cy="315.13" r="2.30"/><circle cx="347.00" cy="312.22" r="2.30"/><circle cx="348.35" cy="309.39" r="2.30"/><circle cx="349.62" cy="305.94" r="2.30"/><circle cx="350.81" cy="303.33" r="2.30"/><circle cx="352.29" cy="300.38" r="2.30"/><circle cx="353.89" cy="297.65" r="2.30"/><circle cx="354.80" cy="294.52" r="2.30"/><circle cx="356.08" cy="291.87" r="2.30"/><circle cx="357.39" cy="288.96" r="2.30"/><circle cx="358.88" cy="286.11" r="2.30"/><circle cx="360.65" cy="283.30" r="2.30"/><circle cx="362.42" cy="279.96" r="2.30"/><circle cx="363.74" cy="277.47" r="2.30"/><circle cx="364.82" cy="274.74" r="2.30"/><circle cx="366.75" cy="271.76" r="2.30"/><circle cx="368.06" cy="269.57" r="2.30"/><circle cx="369.53" cy="266.62" r="2.30"/><circle cx="372.12" cy="263.65" r="2.30"/><circle cx="374.18" cy="261.81" r="2.30"/><circle cx="376.61" cy="259.11" r="2.30"/><circle cx="378.80" cy="256.90" r="2.30"/><circle cx="380.45" cy="254.84" r="2.30"/><circle cx="382.14" cy="252.25" r="2.30"/><circle cx="384.64" cy="249.39" r="2.30"/><circle cx="387.02" cy="247.08" r="2.30"/><circle cx="389.26" cy="245.38" r="2.30"/><circle cx="392.50" cy="244.45" r="2.30"/><circle cx="395.35" cy="245.19" r="2.30"/><circle cx="398.40" cy="246.53" r="2.30"/><circle cx="400.47" cy="248.75" r="2.30"/><circle cx="401.70" cy="251.45" r="2.30"/><circle cx="402.82" cy="254.40" r="2.30"/><circle cx="404.75" cy="257.46" r="2.30"/><circle cx="407.22" cy="258.93" r="2.30"/><circle cx="409.33" cy="260.84" r="2.30"/><circle cx="411.71" cy="263.45" r="2.30"/><circle cx="413.44" cy="265.71" r="2.30"/><circle cx="414.99" cy="269.24" r="2.30"/><circle cx="416.47" cy="271.24" r="2.30"/><circle cx="417.88" cy="273.95" r="2.30"/><circle cx="419.42" cy="277.52" r="2.30"/><circle cx="421.17" cy="280.16" r="2.30"/><circle cx="422.45" cy="283.39" r="2.30"/><circle cx="423.42" cy="286.12" r="2.30"/><circle cx="425.56" cy="288.52" r="2.30"/><circle cx="427.86" cy="290.70" r="2.30"/><circle cx="430.01" cy="292.67" r="2.30"/><circle cx="432.95" cy="294.44" r="2.30"/><circle cx="435.35" cy="295.61" r="2.30"/><circle cx="438.13" cy="297.60" r="2.30"/><circle cx="441.79" cy="298.91" r="2.30"/><circle cx="444.16" cy="300.49" r="2.30"/><circle cx="447.39" cy="301.70" r="2.30"/><circle cx="449.77" cy="302.91" r="2.30"/><circle cx="452.89" cy="304.12" r="2.30"/><circle cx="455.88" cy="305.57" r="2.30"/><circle cx="459.26" cy="306.32" r="2.30"/><circle cx="461.80" cy="307.72" r="2.30"/><circle cx="464.26" cy="309.84" r="2.30"/><circle cx="467.41" cy="311.60" r="2.30"/><circle cx="470.03" cy="312.44" r="2.30"/><circle cx="472.59" cy="314.79" r="2.30"/><circle cx="475.56" cy="317.18" r="2.30"/><circle cx="477.61" cy="318.70" r="2.30"/><circle cx="479.61" cy="321.09" r="2.30"/><circle cx="481.97" cy="322.91" r="2.30"/><circle cx="484.05" cy="325.04" r="2.30"/><circle cx="486.92" cy="327.41" r="2.30"/><circle cx="489.42" cy="329.66" r="2.30"/><circle cx="491.58" cy="331.98" r="2.30"/><circle cx="493.04" cy="334.81" r="2.30"/><circle cx="494.97" cy="337.51" r="2.30"/><circle cx="496.66" cy="339.58" r="2.30"/><circle cx="499.00" cy="342.81" r="2.30"/><circle cx="500.93" cy="345.44" r="2.30"/><circle cx="502.09" cy="347.95" r="2.30"/><circle cx="504.48" cy="350.43" r="2.30"/><circle cx="506.39" cy="352.95" r="2.30"/><circle cx="508.12" cy="356.07" r="2.30"/><circle cx="508.97" cy="358.15" r="2.30"/><circle cx="511.26" cy="361.57" r="2.30"/><circle cx="512.47" cy="363.81" r="2.30"/><circle cx="514.78" cy="366.38" r="2.30"/><circle cx="516.62" cy="369.36" r="2.30"/><circle cx="517.68" cy="371.92" r="2.30"/><circle cx="519.93" cy="374.63" r="2.30"/><circle cx="521.81" cy="377.02" r="2.30"/><circle cx="523.76" cy="379.83" r="2.30"/><circle cx="525.75" cy="382.46" r="2.30"/><circle cx="527.66" cy="384.64" r="2.30"/><circle cx="530.01" cy="387.63" r="2.30"/><circle cx="532.03" cy="389.75" r="2.30"/></g>
<circle cx="386.9" cy="242.1" r="2.3" fill="#ea5a20"/>
<g fill="#8a8a8c"><circle cx="322.01" cy="387.10" r="2.30"/><circle cx="324.05" cy="384.82" r="2.30"/><circle cx="325.32" cy="381.60" r="2.30"/><circle cx="326.51" cy="379.31" r="2.30"/><circle cx="327.87" cy="375.98" r="2.30"/><circle cx="328.52" cy="372.83" r="2.30"/><circle cx="330.22" cy="369.81" r="2.30"/><circle cx="331.30" cy="367.08" r="2.30"/><circle cx="332.74" cy="364.32" r="2.30"/><circle cx="333.19" cy="360.55" r="2.30"/><circle cx="334.18" cy="357.89" r="2.30"/><circle cx="335.56" cy="355.24" r="2.30"/><circle cx="337.15" cy="351.63" r="2.30"/><circle cx="338.42" cy="349.41" r="2.30"/><circle cx="339.64" cy="346.22" r="2.30"/><circle cx="340.11" cy="343.44" r="2.30"/><circle cx="341.59" cy="340.25" r="2.30"/><circle cx="342.68" cy="336.90" r="2.30"/><circle cx="342.94" cy="334.05" r="2.30"/><circle cx="344.58" cy="330.69" r="2.30"/><circle cx="345.57" cy="328.32" r="2.30"/><circle cx="346.14" cy="325.00" r="2.30"/><circle cx="347.57" cy="321.84" r="2.30"/><circle cx="348.39" cy="318.70" r="2.30"/><circle cx="350.12" cy="316.24" r="2.30"/><circle cx="351.09" cy="312.65" r="2.30"/><circle cx="352.64" cy="310.32" r="2.30"/><circle cx="353.45" cy="307.23" r="2.30"/><circle cx="355.37" cy="304.59" r="2.30"/><circle cx="356.35" cy="301.31" r="2.30"/><circle cx="357.73" cy="298.14" r="2.30"/><circle cx="358.70" cy="295.21" r="2.30"/><circle cx="360.68" cy="292.56" r="2.30"/><circle cx="362.12" cy="289.81" r="2.30"/><circle cx="363.64" cy="286.79" r="2.30"/><circle cx="364.78" cy="284.76" r="2.30"/><circle cx="366.64" cy="281.17" r="2.30"/><circle cx="368.55" cy="279.06" r="2.30"/><circle cx="369.96" cy="276.27" r="2.30"/><circle cx="371.96" cy="273.58" r="2.30"/><circle cx="373.51" cy="270.52" r="2.30"/><circle cx="376.22" cy="268.65" r="2.30"/><circle cx="377.66" cy="265.80" r="2.30"/><circle cx="379.36" cy="263.42" r="2.30"/><circle cx="381.35" cy="260.95" r="2.30"/><circle cx="383.40" cy="258.16" r="2.30"/><circle cx="385.47" cy="255.10" r="2.30"/><circle cx="387.05" cy="252.95" r="2.30"/><circle cx="389.89" cy="251.19" r="2.30"/><circle cx="392.74" cy="250.79" r="2.30"/><circle cx="396.62" cy="251.26" r="2.30"/><circle cx="399.58" cy="252.98" r="2.30"/><circle cx="401.26" cy="254.72" r="2.30"/><circle cx="404.21" cy="256.09" r="2.30"/><circle cx="406.12" cy="259.07" r="2.30"/><circle cx="407.02" cy="262.36" r="2.30"/><circle cx="408.51" cy="265.38" r="2.30"/><circle cx="409.86" cy="267.77" r="2.30"/><circle cx="411.58" cy="270.78" r="2.30"/><circle cx="414.27" cy="272.66" r="2.30"/><circle cx="415.06" cy="275.43" r="2.30"/><circle cx="416.93" cy="278.79" r="2.30"/><circle cx="418.86" cy="281.59" r="2.30"/><circle cx="419.77" cy="284.25" r="2.30"/><circle cx="422.29" cy="286.68" r="2.30"/><circle cx="424.60" cy="288.58" r="2.30"/><circle cx="426.25" cy="291.32" r="2.30"/><circle cx="429.38" cy="293.36" r="2.30"/><circle cx="431.52" cy="294.96" r="2.30"/><circle cx="434.67" cy="296.18" r="2.30"/><circle cx="437.07" cy="297.89" r="2.30"/><circle cx="439.76" cy="299.50" r="2.30"/><circle cx="442.67" cy="300.70" r="2.30"/><circle cx="445.50" cy="302.54" r="2.30"/><circle cx="448.24" cy="304.02" r="2.30"/><circle cx="451.30" cy="304.75" r="2.30"/><circle cx="454.93" cy="306.11" r="2.30"/><circle cx="457.90" cy="307.89" r="2.30"/><circle cx="460.73" cy="308.65" r="2.30"/><circle cx="463.21" cy="310.02" r="2.30"/><circle cx="466.45" cy="312.22" r="2.30"/><circle cx="468.95" cy="313.48" r="2.30"/><circle cx="471.33" cy="315.60" r="2.30"/><circle cx="474.01" cy="317.35" r="2.30"/><circle cx="476.27" cy="318.91" r="2.30"/><circle cx="478.67" cy="321.36" r="2.30"/><circle cx="481.38" cy="323.11" r="2.30"/><circle cx="483.93" cy="325.49" r="2.30"/><circle cx="485.78" cy="327.65" r="2.30"/><circle cx="487.92" cy="330.53" r="2.30"/><circle cx="490.24" cy="332.19" r="2.30"/><circle cx="492.64" cy="334.58" r="2.30"/><circle cx="494.95" cy="336.93" r="2.30"/><circle cx="496.79" cy="339.54" r="2.30"/><circle cx="498.54" cy="342.72" r="2.30"/><circle cx="499.84" cy="345.11" r="2.30"/><circle cx="501.84" cy="347.46" r="2.30"/><circle cx="503.69" cy="350.12" r="2.30"/><circle cx="506.16" cy="353.36" r="2.30"/><circle cx="507.85" cy="355.22" r="2.30"/><circle cx="509.04" cy="358.62" r="2.30"/><circle cx="510.60" cy="361.13" r="2.30"/><circle cx="512.60" cy="364.01" r="2.30"/><circle cx="514.13" cy="366.51" r="2.30"/><circle cx="516.21" cy="368.57" r="2.30"/><circle cx="517.81" cy="371.77" r="2.30"/><circle cx="520.20" cy="373.74" r="2.30"/><circle cx="522.05" cy="376.95" r="2.30"/><circle cx="523.94" cy="379.06" r="2.30"/><circle cx="526.13" cy="380.97" r="2.30"/><circle cx="528.91" cy="383.75" r="2.30"/><circle cx="530.31" cy="385.75" r="2.30"/></g>
<g fill="#4a4a4c"><circle cx="364.33" cy="391.50" r="2.30"/><circle cx="365.79" cy="388.19" r="2.30"/><circle cx="366.63" cy="385.49" r="2.30"/><circle cx="368.18" cy="382.66" r="2.30"/><circle cx="369.22" cy="379.13" r="2.30"/><circle cx="369.96" cy="376.64" r="2.30"/><circle cx="371.46" cy="373.66" r="2.30"/><circle cx="372.34" cy="370.77" r="2.30"/><circle cx="373.76" cy="367.82" r="2.30"/><circle cx="375.41" cy="364.53" r="2.30"/><circle cx="375.87" cy="361.96" r="2.30"/><circle cx="377.72" cy="359.06" r="2.30"/><circle cx="378.96" cy="355.58" r="2.30"/><circle cx="380.99" cy="352.93" r="2.30"/><circle cx="381.99" cy="350.16" r="2.30"/><circle cx="383.97" cy="347.06" r="2.30"/><circle cx="385.50" cy="344.68" r="2.30"/><circle cx="387.09" cy="341.62" r="2.30"/><circle cx="389.00" cy="339.55" r="2.30"/><circle cx="390.90" cy="336.43" r="2.30"/><circle cx="392.59" cy="333.86" r="2.30"/><circle cx="394.49" cy="330.97" r="2.30"/><circle cx="396.47" cy="329.18" r="2.30"/><circle cx="398.12" cy="326.28" r="2.30"/><circle cx="400.37" cy="324.08" r="2.30"/><circle cx="402.81" cy="323.11" r="2.30"/><circle cx="405.91" cy="321.09" r="2.30"/><circle cx="408.85" cy="320.25" r="2.30"/><circle cx="412.62" cy="319.38" r="2.30"/><circle cx="415.15" cy="320.18" r="2.30"/><circle cx="418.42" cy="319.92" r="2.30"/><circle cx="421.94" cy="320.93" r="2.30"/><circle cx="425.01" cy="321.67" r="2.30"/><circle cx="427.77" cy="322.44" r="2.30"/><circle cx="431.48" cy="322.23" r="2.30"/><circle cx="434.10" cy="323.12" r="2.30"/><circle cx="437.61" cy="323.42" r="2.30"/><circle cx="440.43" cy="324.02" r="2.30"/><circle cx="443.60" cy="324.68" r="2.30"/><circle cx="447.42" cy="324.75" r="2.30"/><circle cx="450.33" cy="325.76" r="2.30"/><circle cx="453.12" cy="326.30" r="2.30"/><circle cx="456.98" cy="326.38" r="2.30"/><circle cx="459.65" cy="327.44" r="2.30"/><circle cx="462.86" cy="327.76" r="2.30"/><circle cx="466.35" cy="328.82" r="2.30"/><circle cx="468.93" cy="329.05" r="2.30"/><circle cx="471.90" cy="330.38" r="2.30"/><circle cx="475.39" cy="332.05" r="2.30"/><circle cx="478.24" cy="333.39" r="2.30"/><circle cx="481.05" cy="334.11" r="2.30"/><circle cx="483.63" cy="336.34" r="2.30"/><circle cx="486.87" cy="337.12" r="2.30"/><circle cx="489.12" cy="339.16" r="2.30"/><circle cx="491.74" cy="340.82" r="2.30"/><circle cx="493.97" cy="342.71" r="2.30"/><circle cx="496.61" cy="344.62" r="2.30"/><circle cx="498.52" cy="347.76" r="2.30"/><circle cx="501.35" cy="350.00" r="2.30"/><circle cx="503.48" cy="352.14" r="2.30"/><circle cx="505.97" cy="354.47" r="2.30"/><circle cx="507.20" cy="356.75" r="2.30"/><circle cx="509.34" cy="359.34" r="2.30"/><circle cx="511.27" cy="361.77" r="2.30"/><circle cx="513.94" cy="364.26" r="2.30"/><circle cx="515.59" cy="366.44" r="2.30"/><circle cx="518.02" cy="369.09" r="2.30"/><circle cx="520.42" cy="370.44" r="2.30"/><circle cx="523.40" cy="372.06" r="2.30"/><circle cx="526.01" cy="374.59" r="2.30"/><circle cx="528.62" cy="375.73" r="2.30"/><circle cx="531.25" cy="377.72" r="2.30"/></g>
</g>
<line x1="468.2" y1="237.8" x2="486.4" y2="237.8" stroke="#f08a60" stroke-width="1.3"/>
<circle cx="477.3" cy="237.8" r="2.2" fill="#ea5a20"/>
<text x="490.00" y="242.00" font-size="10.20" fill="#222" text-anchor="start" textLength="38.0" lengthAdjust="spacingAndGlyphs">900 mW</text>
<line x1="468.2" y1="248.2" x2="486.4" y2="248.2" stroke="#a0a0a0" stroke-width="1.3"/>
<circle cx="477.3" cy="248.2" r="2.2" fill="#8a8a8c"/>
<text x="490.00" y="252.40" font-size="10.20" fill="#222" text-anchor="start" textLength="42.7" lengthAdjust="spacingAndGlyphs">1200 mW</text>
<line x1="468.2" y1="258.2" x2="486.4" y2="258.2" stroke="#666" stroke-width="1.3"/>
<circle cx="477.3" cy="258.2" r="2.2" fill="#4a4a4c"/>
<text x="490.00" y="262.40" font-size="10.20" fill="#222" text-anchor="start" textLength="37.8" lengthAdjust="spacingAndGlyphs">100 mW</text>
</svg></body></html>
